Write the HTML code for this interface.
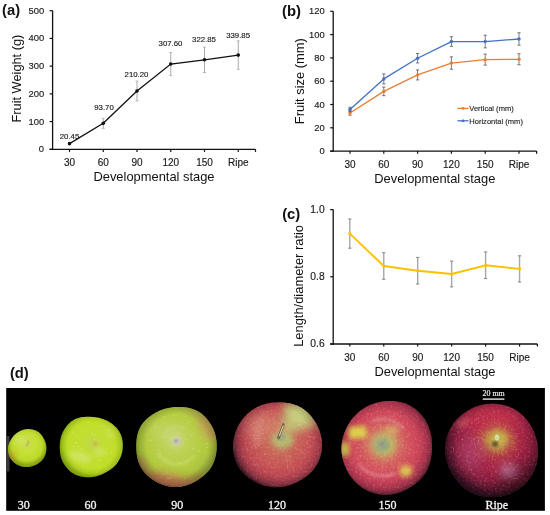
<!DOCTYPE html>
<html><head><meta charset="utf-8"><style>html,body{margin:0;padding:0;background:#fff;}svg{display:block;will-change:transform;}</style></head><body>
<svg width="550" height="515" viewBox="0 0 550 515" font-family="Liberation Sans, sans-serif">
<rect width="550" height="515" fill="#fff"/>
<text x="2" y="15.4" font-size="14.8" font-weight="bold" fill="#111">(a)</text>
<line x1="52.6" y1="10.700000000000017" x2="52.6" y2="149.95000000000002" stroke="#111" stroke-width="1.3"/>
<line x1="49.6" y1="149.3" x2="255.5" y2="149.3" stroke="#111" stroke-width="1.3"/>
<line x1="49.6" y1="149.3" x2="52.6" y2="149.3" stroke="#111" stroke-width="1.2"/>
<text x="0" y="0" font-size="9.87" text-anchor="end" fill="#1a1a1a" stroke="#1a1a1a" stroke-width="0.15" transform="translate(44.10,152.31) scale(0.952,1)">0</text>
<line x1="49.6" y1="121.58000000000001" x2="52.6" y2="121.58000000000001" stroke="#111" stroke-width="1.2"/>
<text x="0" y="0" font-size="9.87" text-anchor="end" fill="#1a1a1a" stroke="#1a1a1a" stroke-width="0.15" transform="translate(44.10,124.59) scale(0.952,1)">100</text>
<line x1="49.6" y1="93.86000000000001" x2="52.6" y2="93.86000000000001" stroke="#111" stroke-width="1.2"/>
<text x="0" y="0" font-size="9.87" text-anchor="end" fill="#1a1a1a" stroke="#1a1a1a" stroke-width="0.15" transform="translate(44.10,96.87) scale(0.952,1)">200</text>
<line x1="49.6" y1="66.14000000000001" x2="52.6" y2="66.14000000000001" stroke="#111" stroke-width="1.2"/>
<text x="0" y="0" font-size="9.87" text-anchor="end" fill="#1a1a1a" stroke="#1a1a1a" stroke-width="0.15" transform="translate(44.10,69.15) scale(0.952,1)">300</text>
<line x1="49.6" y1="38.420000000000016" x2="52.6" y2="38.420000000000016" stroke="#111" stroke-width="1.2"/>
<text x="0" y="0" font-size="9.87" text-anchor="end" fill="#1a1a1a" stroke="#1a1a1a" stroke-width="0.15" transform="translate(44.10,41.43) scale(0.952,1)">400</text>
<line x1="49.6" y1="10.700000000000017" x2="52.6" y2="10.700000000000017" stroke="#111" stroke-width="1.2"/>
<text x="0" y="0" font-size="9.87" text-anchor="end" fill="#1a1a1a" stroke="#1a1a1a" stroke-width="0.15" transform="translate(44.10,13.71) scale(0.952,1)">500</text>
<line x1="69.5" y1="149.3" x2="69.5" y2="151.9" stroke="#111" stroke-width="1.2"/>
<line x1="103.25" y1="149.3" x2="103.25" y2="151.9" stroke="#111" stroke-width="1.2"/>
<line x1="137.0" y1="149.3" x2="137.0" y2="151.9" stroke="#111" stroke-width="1.2"/>
<line x1="170.75" y1="149.3" x2="170.75" y2="151.9" stroke="#111" stroke-width="1.2"/>
<line x1="204.5" y1="149.3" x2="204.5" y2="151.9" stroke="#111" stroke-width="1.2"/>
<line x1="238.25" y1="149.3" x2="238.25" y2="151.9" stroke="#111" stroke-width="1.2"/>
<line x1="255.5" y1="149.3" x2="255.5" y2="151.9" stroke="#111" stroke-width="1.2"/>
<text x="69.5" y="165.6" font-size="10.0" text-anchor="middle" fill="#1a1a1a" stroke="#1a1a1a" stroke-width="0.15">30</text>
<text x="103.25" y="165.6" font-size="10.0" text-anchor="middle" fill="#1a1a1a" stroke="#1a1a1a" stroke-width="0.15">60</text>
<text x="137.0" y="165.6" font-size="10.0" text-anchor="middle" fill="#1a1a1a" stroke="#1a1a1a" stroke-width="0.15">90</text>
<text x="170.75" y="165.6" font-size="10.0" text-anchor="middle" fill="#1a1a1a" stroke="#1a1a1a" stroke-width="0.15">120</text>
<text x="204.5" y="165.6" font-size="10.0" text-anchor="middle" fill="#1a1a1a" stroke="#1a1a1a" stroke-width="0.15">150</text>
<text x="238.25" y="165.6" font-size="10.0" text-anchor="middle" fill="#1a1a1a" stroke="#1a1a1a" stroke-width="0.15">Ripe</text>
<text x="154" y="181.2" font-size="12.9" text-anchor="middle" fill="#111">Developmental stage</text>
<text x="0" y="0" font-size="12.8" text-anchor="middle" fill="#111" transform="translate(20.8,78.6) rotate(-90)">Fruit Weight (g)</text>
<line x1="103.25" y1="118.32636000000001" x2="103.25" y2="128.32636000000002" stroke="#aaa" stroke-width="1"/>
<line x1="101.75" y1="118.32636000000001" x2="104.75" y2="118.32636000000001" stroke="#aaa" stroke-width="0.8"/>
<line x1="101.75" y1="128.32636000000002" x2="104.75" y2="128.32636000000002" stroke="#aaa" stroke-width="0.8"/>
<line x1="137.0" y1="81.03256000000002" x2="137.0" y2="101.03256000000002" stroke="#aaa" stroke-width="1"/>
<line x1="135.5" y1="81.03256000000002" x2="138.5" y2="81.03256000000002" stroke="#aaa" stroke-width="0.8"/>
<line x1="135.5" y1="101.03256000000002" x2="138.5" y2="101.03256000000002" stroke="#aaa" stroke-width="0.8"/>
<line x1="170.75" y1="52.43328" x2="170.75" y2="75.63328" stroke="#aaa" stroke-width="1"/>
<line x1="169.25" y1="52.43328" x2="172.25" y2="52.43328" stroke="#aaa" stroke-width="0.8"/>
<line x1="169.25" y1="75.63328" x2="172.25" y2="75.63328" stroke="#aaa" stroke-width="0.8"/>
<line x1="204.5" y1="47.10598" x2="204.5" y2="72.50598000000001" stroke="#aaa" stroke-width="1"/>
<line x1="203.0" y1="47.10598" x2="206.0" y2="47.10598" stroke="#aaa" stroke-width="0.8"/>
<line x1="203.0" y1="72.50598000000001" x2="206.0" y2="72.50598000000001" stroke="#aaa" stroke-width="0.8"/>
<line x1="238.25" y1="40.89358" x2="238.25" y2="69.29358" stroke="#aaa" stroke-width="1"/>
<line x1="236.75" y1="40.89358" x2="239.75" y2="40.89358" stroke="#aaa" stroke-width="0.8"/>
<line x1="236.75" y1="69.29358" x2="239.75" y2="69.29358" stroke="#aaa" stroke-width="0.8"/>
<polyline fill="none" stroke="#111" stroke-width="1.3" points="69.50,143.63 103.25,123.33 137.00,91.03 170.75,64.03 204.50,59.81 238.25,55.09"/>
<circle cx="69.5" cy="143.63" r="1.8" fill="#111"/>
<circle cx="103.25" cy="123.33" r="1.8" fill="#111"/>
<circle cx="137.0" cy="91.03" r="1.8" fill="#111"/>
<circle cx="170.75" cy="64.03" r="1.8" fill="#111"/>
<circle cx="204.5" cy="59.81" r="1.8" fill="#111"/>
<circle cx="238.25" cy="55.09" r="1.8" fill="#111"/>
<text x="69.5" y="138.5" font-size="7.8" text-anchor="middle" fill="#1a1a1a" stroke="#1a1a1a" stroke-width="0.15">20.45</text>
<text x="104" y="110" font-size="7.8" text-anchor="middle" fill="#1a1a1a" stroke="#1a1a1a" stroke-width="0.15">93.70</text>
<text x="136.5" y="77" font-size="7.8" text-anchor="middle" fill="#1a1a1a" stroke="#1a1a1a" stroke-width="0.15">210.20</text>
<text x="170.5" y="46" font-size="7.8" text-anchor="middle" fill="#1a1a1a" stroke="#1a1a1a" stroke-width="0.15">307.60</text>
<text x="204" y="42.4" font-size="7.8" text-anchor="middle" fill="#1a1a1a" stroke="#1a1a1a" stroke-width="0.15">322.85</text>
<text x="238.1" y="37.8" font-size="7.8" text-anchor="middle" fill="#1a1a1a" stroke="#1a1a1a" stroke-width="0.15">339.85</text>
<text x="282.1" y="15.9" font-size="14.8" font-weight="bold" fill="#111">(b)</text>
<line x1="333.2" y1="11.299999999999983" x2="333.2" y2="151.75" stroke="#111" stroke-width="1.3"/>
<line x1="330.2" y1="151.1" x2="536.6" y2="151.1" stroke="#111" stroke-width="1.3"/>
<line x1="330.2" y1="151.1" x2="333.2" y2="151.1" stroke="#111" stroke-width="1.2"/>
<text x="0" y="0" font-size="9.87" text-anchor="end" fill="#1a1a1a" stroke="#1a1a1a" stroke-width="0.15" transform="translate(324.70,154.11) scale(0.952,1)">0</text>
<line x1="330.2" y1="127.8" x2="333.2" y2="127.8" stroke="#111" stroke-width="1.2"/>
<text x="0" y="0" font-size="9.87" text-anchor="end" fill="#1a1a1a" stroke="#1a1a1a" stroke-width="0.15" transform="translate(324.70,130.81) scale(0.952,1)">20</text>
<line x1="330.2" y1="104.5" x2="333.2" y2="104.5" stroke="#111" stroke-width="1.2"/>
<text x="0" y="0" font-size="9.87" text-anchor="end" fill="#1a1a1a" stroke="#1a1a1a" stroke-width="0.15" transform="translate(324.70,107.51) scale(0.952,1)">40</text>
<line x1="330.2" y1="81.19999999999999" x2="333.2" y2="81.19999999999999" stroke="#111" stroke-width="1.2"/>
<text x="0" y="0" font-size="9.87" text-anchor="end" fill="#1a1a1a" stroke="#1a1a1a" stroke-width="0.15" transform="translate(324.70,84.21) scale(0.952,1)">60</text>
<line x1="330.2" y1="57.89999999999999" x2="333.2" y2="57.89999999999999" stroke="#111" stroke-width="1.2"/>
<text x="0" y="0" font-size="9.87" text-anchor="end" fill="#1a1a1a" stroke="#1a1a1a" stroke-width="0.15" transform="translate(324.70,60.91) scale(0.952,1)">80</text>
<line x1="330.2" y1="34.599999999999994" x2="333.2" y2="34.599999999999994" stroke="#111" stroke-width="1.2"/>
<text x="0" y="0" font-size="9.87" text-anchor="end" fill="#1a1a1a" stroke="#1a1a1a" stroke-width="0.15" transform="translate(324.70,37.61) scale(0.952,1)">100</text>
<line x1="330.2" y1="11.299999999999983" x2="333.2" y2="11.299999999999983" stroke="#111" stroke-width="1.2"/>
<text x="0" y="0" font-size="9.87" text-anchor="end" fill="#1a1a1a" stroke="#1a1a1a" stroke-width="0.15" transform="translate(324.70,14.31) scale(0.952,1)">120</text>
<line x1="350.0" y1="151.1" x2="350.0" y2="153.7" stroke="#111" stroke-width="1.2"/>
<line x1="383.8" y1="151.1" x2="383.8" y2="153.7" stroke="#111" stroke-width="1.2"/>
<line x1="417.6" y1="151.1" x2="417.6" y2="153.7" stroke="#111" stroke-width="1.2"/>
<line x1="451.4" y1="151.1" x2="451.4" y2="153.7" stroke="#111" stroke-width="1.2"/>
<line x1="485.2" y1="151.1" x2="485.2" y2="153.7" stroke="#111" stroke-width="1.2"/>
<line x1="519.0" y1="151.1" x2="519.0" y2="153.7" stroke="#111" stroke-width="1.2"/>
<line x1="536.6" y1="151.1" x2="536.6" y2="153.7" stroke="#111" stroke-width="1.2"/>
<text x="350.0" y="167.7" font-size="10.0" text-anchor="middle" fill="#1a1a1a" stroke="#1a1a1a" stroke-width="0.15">30</text>
<text x="383.8" y="167.7" font-size="10.0" text-anchor="middle" fill="#1a1a1a" stroke="#1a1a1a" stroke-width="0.15">60</text>
<text x="417.6" y="167.7" font-size="10.0" text-anchor="middle" fill="#1a1a1a" stroke="#1a1a1a" stroke-width="0.15">90</text>
<text x="451.4" y="167.7" font-size="10.0" text-anchor="middle" fill="#1a1a1a" stroke="#1a1a1a" stroke-width="0.15">120</text>
<text x="485.2" y="167.7" font-size="10.0" text-anchor="middle" fill="#1a1a1a" stroke="#1a1a1a" stroke-width="0.15">150</text>
<text x="519.0" y="167.7" font-size="10.0" text-anchor="middle" fill="#1a1a1a" stroke="#1a1a1a" stroke-width="0.15">Ripe</text>
<text x="434.8" y="183.2" font-size="12.9" text-anchor="middle" fill="#111">Developmental stage</text>
<text x="0" y="0" font-size="12.9" text-anchor="middle" fill="#111" transform="translate(303.8,81.2) rotate(-90)">Fruit size (mm)</text>
<polyline fill="none" stroke="#ED7D31" stroke-width="1.35" stroke-linejoin="round" points="350.00,113.00 383.80,91.38 417.60,74.93 451.40,63.06 485.20,59.65 519.00,59.30"/>
<polyline fill="none" stroke="#4472C4" stroke-width="1.35" stroke-linejoin="round" points="350.00,109.47 383.80,78.92 417.60,58.24 451.40,41.56 485.20,41.56 519.00,38.97"/>
<line x1="350.0" y1="110.795" x2="350.0" y2="115.19500000000001" stroke="#666" stroke-width="0.85"/>
<line x1="348.4" y1="110.795" x2="351.6" y2="110.795" stroke="#555" stroke-width="0.8"/>
<line x1="348.4" y1="115.19500000000001" x2="351.6" y2="115.19500000000001" stroke="#555" stroke-width="0.8"/>
<line x1="383.8" y1="87.075" x2="383.8" y2="95.675" stroke="#666" stroke-width="0.85"/>
<line x1="382.2" y1="87.075" x2="385.40000000000003" y2="87.075" stroke="#555" stroke-width="0.8"/>
<line x1="382.2" y1="95.675" x2="385.40000000000003" y2="95.675" stroke="#555" stroke-width="0.8"/>
<line x1="417.6" y1="69.92500000000001" x2="417.6" y2="79.92500000000001" stroke="#666" stroke-width="0.85"/>
<line x1="416.0" y1="69.92500000000001" x2="419.20000000000005" y2="69.92500000000001" stroke="#555" stroke-width="0.8"/>
<line x1="416.0" y1="79.92500000000001" x2="419.20000000000005" y2="79.92500000000001" stroke="#555" stroke-width="0.8"/>
<line x1="451.4" y1="56.857500000000016" x2="451.4" y2="69.25750000000002" stroke="#666" stroke-width="0.85"/>
<line x1="449.79999999999995" y1="56.857500000000016" x2="453.0" y2="56.857500000000016" stroke="#555" stroke-width="0.8"/>
<line x1="449.79999999999995" y1="69.25750000000002" x2="453.0" y2="69.25750000000002" stroke="#555" stroke-width="0.8"/>
<line x1="485.2" y1="54.150000000000006" x2="485.2" y2="65.15" stroke="#666" stroke-width="0.85"/>
<line x1="483.59999999999997" y1="54.150000000000006" x2="486.8" y2="54.150000000000006" stroke="#555" stroke-width="0.8"/>
<line x1="483.59999999999997" y1="65.15" x2="486.8" y2="65.15" stroke="#555" stroke-width="0.8"/>
<line x1="519.0" y1="53.797500000000014" x2="519.0" y2="64.79750000000001" stroke="#666" stroke-width="0.85"/>
<line x1="517.4" y1="53.797500000000014" x2="520.6" y2="53.797500000000014" stroke="#555" stroke-width="0.8"/>
<line x1="517.4" y1="64.79750000000001" x2="520.6" y2="64.79750000000001" stroke="#555" stroke-width="0.8"/>
<circle cx="350.0" cy="113.00" r="1.7" fill="#ED7D31"/>
<circle cx="383.8" cy="91.38" r="1.7" fill="#ED7D31"/>
<circle cx="417.6" cy="74.93" r="1.7" fill="#ED7D31"/>
<circle cx="451.4" cy="63.06" r="1.7" fill="#ED7D31"/>
<circle cx="485.2" cy="59.65" r="1.7" fill="#ED7D31"/>
<circle cx="519.0" cy="59.30" r="1.7" fill="#ED7D31"/>
<line x1="350.0" y1="107.27" x2="350.0" y2="111.67" stroke="#666" stroke-width="0.85"/>
<line x1="348.4" y1="107.27" x2="351.6" y2="107.27" stroke="#555" stroke-width="0.8"/>
<line x1="348.4" y1="111.67" x2="351.6" y2="111.67" stroke="#555" stroke-width="0.8"/>
<line x1="383.8" y1="73.92" x2="383.8" y2="83.92" stroke="#666" stroke-width="0.85"/>
<line x1="382.2" y1="73.92" x2="385.40000000000003" y2="73.92" stroke="#555" stroke-width="0.8"/>
<line x1="382.2" y1="83.92" x2="385.40000000000003" y2="83.92" stroke="#555" stroke-width="0.8"/>
<line x1="417.6" y1="53.540000000000006" x2="417.6" y2="62.94000000000001" stroke="#666" stroke-width="0.85"/>
<line x1="416.0" y1="53.540000000000006" x2="419.20000000000005" y2="53.540000000000006" stroke="#555" stroke-width="0.8"/>
<line x1="416.0" y1="62.94000000000001" x2="419.20000000000005" y2="62.94000000000001" stroke="#555" stroke-width="0.8"/>
<line x1="451.4" y1="36.75500000000001" x2="451.4" y2="46.355000000000004" stroke="#666" stroke-width="0.85"/>
<line x1="449.79999999999995" y1="36.75500000000001" x2="453.0" y2="36.75500000000001" stroke="#555" stroke-width="0.8"/>
<line x1="449.79999999999995" y1="46.355000000000004" x2="453.0" y2="46.355000000000004" stroke="#555" stroke-width="0.8"/>
<line x1="485.2" y1="35.25500000000001" x2="485.2" y2="47.855000000000004" stroke="#666" stroke-width="0.85"/>
<line x1="483.59999999999997" y1="35.25500000000001" x2="486.8" y2="35.25500000000001" stroke="#555" stroke-width="0.8"/>
<line x1="483.59999999999997" y1="47.855000000000004" x2="486.8" y2="47.855000000000004" stroke="#555" stroke-width="0.8"/>
<line x1="519.0" y1="32.77000000000001" x2="519.0" y2="45.170000000000016" stroke="#666" stroke-width="0.85"/>
<line x1="517.4" y1="32.77000000000001" x2="520.6" y2="32.77000000000001" stroke="#555" stroke-width="0.8"/>
<line x1="517.4" y1="45.170000000000016" x2="520.6" y2="45.170000000000016" stroke="#555" stroke-width="0.8"/>
<circle cx="350.0" cy="109.47" r="1.7" fill="#4472C4"/>
<circle cx="383.8" cy="78.92" r="1.7" fill="#4472C4"/>
<circle cx="417.6" cy="58.24" r="1.7" fill="#4472C4"/>
<circle cx="451.4" cy="41.56" r="1.7" fill="#4472C4"/>
<circle cx="485.2" cy="41.56" r="1.7" fill="#4472C4"/>
<circle cx="519.0" cy="38.97" r="1.7" fill="#4472C4"/>
<line x1="457.5" y1="108.4" x2="468.5" y2="108.4" stroke="#ED7D31" stroke-width="1.3"/>
<circle cx="463" cy="108.4" r="1.4" fill="#ED7D31"/>
<text x="0" y="0" font-size="8.0" fill="#222" stroke="#222" stroke-width="0.12" transform="translate(469.3,111.15) scale(0.944,1)">Vertical (mm)</text>
<line x1="457.5" y1="120.8" x2="468.5" y2="120.8" stroke="#4472C4" stroke-width="1.3"/>
<circle cx="463" cy="120.8" r="1.4" fill="#4472C4"/>
<text x="0" y="0" font-size="8.0" fill="#222" stroke="#222" stroke-width="0.12" transform="translate(469.3,123.55) scale(0.944,1)">Horizontal (mm)</text>
<text x="282.2" y="218.5" font-size="14.8" font-weight="bold" fill="#111">(c)</text>
<line x1="333.2" y1="209.6" x2="333.2" y2="344.65" stroke="#111" stroke-width="1.3"/>
<line x1="330.2" y1="344" x2="537.4" y2="344" stroke="#111" stroke-width="1.3"/>
<line x1="330.2" y1="344.0" x2="333.2" y2="344.0" stroke="#111" stroke-width="1.2"/>
<text x="0" y="0" font-size="10.30" text-anchor="end" fill="#1a1a1a" stroke="#1a1a1a" stroke-width="0.15" transform="translate(324.70,347.33) scale(1.000,1)">0.6</text>
<line x1="330.2" y1="276.79999999999995" x2="333.2" y2="276.79999999999995" stroke="#111" stroke-width="1.2"/>
<text x="0" y="0" font-size="10.30" text-anchor="end" fill="#1a1a1a" stroke="#1a1a1a" stroke-width="0.15" transform="translate(324.70,280.13) scale(1.000,1)">0.8</text>
<line x1="330.2" y1="209.6" x2="333.2" y2="209.6" stroke="#111" stroke-width="1.2"/>
<text x="0" y="0" font-size="10.30" text-anchor="end" fill="#1a1a1a" stroke="#1a1a1a" stroke-width="0.15" transform="translate(324.70,212.93) scale(1.000,1)">1.0</text>
<line x1="349.8" y1="344" x2="349.8" y2="346.6" stroke="#111" stroke-width="1.2"/>
<line x1="383.75" y1="344" x2="383.75" y2="346.6" stroke="#111" stroke-width="1.2"/>
<line x1="417.70000000000005" y1="344" x2="417.70000000000005" y2="346.6" stroke="#111" stroke-width="1.2"/>
<line x1="451.65000000000003" y1="344" x2="451.65000000000003" y2="346.6" stroke="#111" stroke-width="1.2"/>
<line x1="485.6" y1="344" x2="485.6" y2="346.6" stroke="#111" stroke-width="1.2"/>
<line x1="519.55" y1="344" x2="519.55" y2="346.6" stroke="#111" stroke-width="1.2"/>
<line x1="537.4" y1="344" x2="537.4" y2="346.6" stroke="#111" stroke-width="1.2"/>
<text x="349.8" y="360.7" font-size="10.0" text-anchor="middle" fill="#1a1a1a" stroke="#1a1a1a" stroke-width="0.15">30</text>
<text x="383.75" y="360.7" font-size="10.0" text-anchor="middle" fill="#1a1a1a" stroke="#1a1a1a" stroke-width="0.15">60</text>
<text x="417.70000000000005" y="360.7" font-size="10.0" text-anchor="middle" fill="#1a1a1a" stroke="#1a1a1a" stroke-width="0.15">90</text>
<text x="451.65000000000003" y="360.7" font-size="10.0" text-anchor="middle" fill="#1a1a1a" stroke="#1a1a1a" stroke-width="0.15">120</text>
<text x="485.6" y="360.7" font-size="10.0" text-anchor="middle" fill="#1a1a1a" stroke="#1a1a1a" stroke-width="0.15">150</text>
<text x="519.55" y="360.7" font-size="10.0" text-anchor="middle" fill="#1a1a1a" stroke="#1a1a1a" stroke-width="0.15">Ripe</text>
<text x="435" y="376.2" font-size="12.9" text-anchor="middle" fill="#111">Developmental stage</text>
<text x="0" y="0" font-size="12.9" text-anchor="middle" fill="#111" transform="translate(303.4,285.9) rotate(-90)">Length/diameter ratio</text>
<line x1="349.8" y1="219.0" x2="349.8" y2="248.2" stroke="#a8a8a8" stroke-width="1.4"/>
<line x1="348.2" y1="219.0" x2="351.40000000000003" y2="219.0" stroke="#777" stroke-width="0.9"/>
<line x1="348.2" y1="248.2" x2="351.40000000000003" y2="248.2" stroke="#777" stroke-width="0.9"/>
<line x1="383.75" y1="252.7" x2="383.75" y2="279.3" stroke="#a8a8a8" stroke-width="1.4"/>
<line x1="382.15" y1="252.7" x2="385.35" y2="252.7" stroke="#777" stroke-width="0.9"/>
<line x1="382.15" y1="279.3" x2="385.35" y2="279.3" stroke="#777" stroke-width="0.9"/>
<line x1="417.70000000000005" y1="257.4" x2="417.70000000000005" y2="284.0" stroke="#a8a8a8" stroke-width="1.4"/>
<line x1="416.1" y1="257.4" x2="419.30000000000007" y2="257.4" stroke="#777" stroke-width="0.9"/>
<line x1="416.1" y1="284.0" x2="419.30000000000007" y2="284.0" stroke="#777" stroke-width="0.9"/>
<line x1="451.65000000000003" y1="261.1" x2="451.65000000000003" y2="286.9" stroke="#a8a8a8" stroke-width="1.4"/>
<line x1="450.05" y1="261.1" x2="453.25000000000006" y2="261.1" stroke="#777" stroke-width="0.9"/>
<line x1="450.05" y1="286.9" x2="453.25000000000006" y2="286.9" stroke="#777" stroke-width="0.9"/>
<line x1="485.6" y1="252.0" x2="485.6" y2="278.6" stroke="#a8a8a8" stroke-width="1.4"/>
<line x1="484.0" y1="252.0" x2="487.20000000000005" y2="252.0" stroke="#777" stroke-width="0.9"/>
<line x1="484.0" y1="278.6" x2="487.20000000000005" y2="278.6" stroke="#777" stroke-width="0.9"/>
<line x1="519.55" y1="255.79999999999998" x2="519.55" y2="282.0" stroke="#a8a8a8" stroke-width="1.4"/>
<line x1="517.9499999999999" y1="255.79999999999998" x2="521.15" y2="255.79999999999998" stroke="#777" stroke-width="0.9"/>
<line x1="517.9499999999999" y1="282.0" x2="521.15" y2="282.0" stroke="#777" stroke-width="0.9"/>
<polyline fill="none" stroke="#FFC000" stroke-width="1.9" stroke-linejoin="round" points="349.80,233.60 383.75,266.00 417.70,270.70 451.65,274.00 485.60,265.30 519.55,268.90"/>
<circle cx="349.8" cy="233.6" r="1.6" fill="#FFC000"/>
<circle cx="383.75" cy="266" r="1.6" fill="#FFC000"/>
<circle cx="417.70000000000005" cy="270.7" r="1.6" fill="#FFC000"/>
<circle cx="451.65000000000003" cy="274" r="1.6" fill="#FFC000"/>
<circle cx="485.6" cy="265.3" r="1.6" fill="#FFC000"/>
<circle cx="519.55" cy="268.9" r="1.6" fill="#FFC000"/>
<text x="9.9" y="378.2" font-size="14.8" font-weight="bold" fill="#111">(d)</text>
<rect x="6.2" y="388" width="538.7" height="122.8" fill="#000"/>
<defs>
<filter id="b0_5" x="-60%" y="-60%" width="220%" height="220%"><feGaussianBlur stdDeviation="0.5"/></filter>
<filter id="b0_8" x="-60%" y="-60%" width="220%" height="220%"><feGaussianBlur stdDeviation="0.8"/></filter>
<filter id="b1_5" x="-60%" y="-60%" width="220%" height="220%"><feGaussianBlur stdDeviation="1.5"/></filter>
<filter id="b2_5" x="-60%" y="-60%" width="220%" height="220%"><feGaussianBlur stdDeviation="2.5"/></filter>
<filter id="b4" x="-60%" y="-60%" width="220%" height="220%"><feGaussianBlur stdDeviation="4"/></filter>
<filter id="b6" x="-60%" y="-60%" width="220%" height="220%"><feGaussianBlur stdDeviation="6"/></filter>
<filter id="edge" x="-10%" y="-10%" width="120%" height="120%"><feGaussianBlur stdDeviation="0.55"/></filter>
<filter id="noise" x="0" y="0" width="100%" height="100%"><feTurbulence type="fractalNoise" baseFrequency="0.45" numOctaves="2" seed="4"/><feColorMatrix type="matrix" values="0 0 0 0 1  0 0 0 0 0.8  0 0 0 0 0.55  0 0 0 1.6 -0.78"/><feGaussianBlur stdDeviation="0.4"/></filter>
<radialGradient id="g30" gradientUnits="userSpaceOnUse" cx="27" cy="444" r="20.5"><stop offset="0" stop-color="#c8dc58" stop-opacity="1"/><stop offset="0.4" stop-color="#c8e038" stop-opacity="1"/><stop offset="0.8" stop-color="#bcda2a" stop-opacity="1"/><stop offset="1" stop-color="#98b818" stop-opacity="1"/></radialGradient>
<radialGradient id="g60" gradientUnits="userSpaceOnUse" cx="93" cy="444" r="33"><stop offset="0" stop-color="#bcd650" stop-opacity="1"/><stop offset="0.3" stop-color="#c4de34" stop-opacity="1"/><stop offset="0.75" stop-color="#c0de2a" stop-opacity="1"/><stop offset="0.9" stop-color="#b0d222" stop-opacity="1"/><stop offset="1" stop-color="#90b414" stop-opacity="1"/></radialGradient>
<radialGradient id="g90" gradientUnits="userSpaceOnUse" cx="175" cy="440" r="45"><stop offset="0" stop-color="#ccdc90" stop-opacity="1"/><stop offset="0.25" stop-color="#bed258" stop-opacity="1"/><stop offset="0.55" stop-color="#b6ce42" stop-opacity="1"/><stop offset="0.82" stop-color="#acc63a" stop-opacity="1"/><stop offset="1" stop-color="#909c34" stop-opacity="1"/></radialGradient>
<radialGradient id="g120" gradientUnits="userSpaceOnUse" cx="280" cy="440" r="48"><stop offset="0" stop-color="#c09868" stop-opacity="1"/><stop offset="0.3" stop-color="#c86458" stop-opacity="1"/><stop offset="0.6" stop-color="#c45054" stop-opacity="1"/><stop offset="0.84" stop-color="#b44050" stop-opacity="1"/><stop offset="0.95" stop-color="#903448" stop-opacity="1"/><stop offset="1" stop-color="#682434" stop-opacity="1"/></radialGradient>
<radialGradient id="g150" gradientUnits="userSpaceOnUse" cx="384" cy="445" r="51"><stop offset="0" stop-color="#809070" stop-opacity="1"/><stop offset="0.14" stop-color="#b8a858" stop-opacity="1"/><stop offset="0.3" stop-color="#d4625e" stop-opacity="1"/><stop offset="0.6" stop-color="#d0485a" stop-opacity="1"/><stop offset="0.85" stop-color="#bc3856" stop-opacity="1"/><stop offset="0.95" stop-color="#963048" stop-opacity="1"/><stop offset="1" stop-color="#682038" stop-opacity="1"/></radialGradient>
<radialGradient id="gR" gradientUnits="userSpaceOnUse" cx="497" cy="440" r="54"><stop offset="0" stop-color="#c0ac48" stop-opacity="1"/><stop offset="0.12" stop-color="#b88048" stop-opacity="1"/><stop offset="0.26" stop-color="#b03444" stop-opacity="1"/><stop offset="0.5" stop-color="#a42244" stop-opacity="1"/><stop offset="0.76" stop-color="#8c1e40" stop-opacity="1"/><stop offset="0.9" stop-color="#6c1836" stop-opacity="1"/><stop offset="1" stop-color="#44102a" stop-opacity="1"/></radialGradient>
</defs>
<rect x="6" y="436" width="3.5" height="35.5" fill="#383838" filter="url(#b0_5)"/>
<clipPath id="c30"><path d="M46.40,448.30 L46.38,449.30 L46.30,450.31 L46.18,451.31 L46.01,452.30 L45.78,453.28 L45.50,454.25 L45.16,455.20 L44.77,456.12 L44.33,457.03 L43.83,457.90 L43.27,458.74 L42.66,459.53 L42.00,460.29 L41.30,461.00 L40.56,461.66 L39.80,462.29 L39.01,462.88 L38.19,463.43 L37.36,463.94 L36.51,464.43 L35.65,464.88 L34.77,465.30 L33.87,465.68 L32.96,466.02 L32.03,466.32 L31.09,466.58 L30.13,466.79 L29.16,466.95 L28.18,467.06 L27.20,467.12 L26.21,467.12 L25.23,467.08 L24.24,466.98 L23.26,466.84 L22.28,466.65 L21.32,466.41 L20.36,466.11 L19.42,465.77 L18.50,465.37 L17.60,464.93 L16.72,464.44 L15.86,463.91 L15.03,463.33 L14.23,462.71 L13.45,462.05 L12.72,461.34 L12.03,460.59 L11.38,459.79 L10.78,458.96 L10.24,458.09 L9.76,457.19 L9.33,456.26 L8.96,455.30 L8.65,454.33 L8.40,453.34 L8.21,452.34 L8.07,451.33 L7.99,450.32 L7.97,449.31 L8.00,448.30 L8.09,447.30 L8.25,446.31 L8.47,445.33 L8.74,444.38 L9.06,443.44 L9.43,442.52 L9.83,441.63 L10.27,440.76 L10.74,439.91 L11.24,439.08 L11.76,438.27 L12.31,437.48 L12.90,436.72 L13.51,435.97 L14.16,435.26 L14.84,434.57 L15.55,433.92 L16.30,433.30 L17.08,432.71 L17.89,432.17 L18.73,431.67 L19.59,431.20 L20.47,430.78 L21.38,430.39 L22.31,430.06 L23.26,429.76 L24.23,429.52 L25.21,429.33 L26.20,429.19 L27.20,429.10 L28.21,429.06 L29.22,429.07 L30.24,429.13 L31.25,429.24 L32.26,429.41 L33.27,429.63 L34.26,429.92 L35.23,430.27 L36.17,430.69 L37.09,431.17 L37.96,431.73 L38.79,432.34 L39.58,433.01 L40.32,433.73 L41.01,434.49 L41.65,435.29 L42.25,436.11 L42.81,436.96 L43.34,437.82 L43.83,438.70 L44.29,439.59 L44.71,440.51 L45.09,441.43 L45.42,442.38 L45.71,443.34 L45.95,444.31 L46.15,445.30 L46.29,446.29 L46.37,447.30Z"/></clipPath>
<g filter="url(#edge)"><path d="M46.40,448.30 L46.38,449.30 L46.30,450.31 L46.18,451.31 L46.01,452.30 L45.78,453.28 L45.50,454.25 L45.16,455.20 L44.77,456.12 L44.33,457.03 L43.83,457.90 L43.27,458.74 L42.66,459.53 L42.00,460.29 L41.30,461.00 L40.56,461.66 L39.80,462.29 L39.01,462.88 L38.19,463.43 L37.36,463.94 L36.51,464.43 L35.65,464.88 L34.77,465.30 L33.87,465.68 L32.96,466.02 L32.03,466.32 L31.09,466.58 L30.13,466.79 L29.16,466.95 L28.18,467.06 L27.20,467.12 L26.21,467.12 L25.23,467.08 L24.24,466.98 L23.26,466.84 L22.28,466.65 L21.32,466.41 L20.36,466.11 L19.42,465.77 L18.50,465.37 L17.60,464.93 L16.72,464.44 L15.86,463.91 L15.03,463.33 L14.23,462.71 L13.45,462.05 L12.72,461.34 L12.03,460.59 L11.38,459.79 L10.78,458.96 L10.24,458.09 L9.76,457.19 L9.33,456.26 L8.96,455.30 L8.65,454.33 L8.40,453.34 L8.21,452.34 L8.07,451.33 L7.99,450.32 L7.97,449.31 L8.00,448.30 L8.09,447.30 L8.25,446.31 L8.47,445.33 L8.74,444.38 L9.06,443.44 L9.43,442.52 L9.83,441.63 L10.27,440.76 L10.74,439.91 L11.24,439.08 L11.76,438.27 L12.31,437.48 L12.90,436.72 L13.51,435.97 L14.16,435.26 L14.84,434.57 L15.55,433.92 L16.30,433.30 L17.08,432.71 L17.89,432.17 L18.73,431.67 L19.59,431.20 L20.47,430.78 L21.38,430.39 L22.31,430.06 L23.26,429.76 L24.23,429.52 L25.21,429.33 L26.20,429.19 L27.20,429.10 L28.21,429.06 L29.22,429.07 L30.24,429.13 L31.25,429.24 L32.26,429.41 L33.27,429.63 L34.26,429.92 L35.23,430.27 L36.17,430.69 L37.09,431.17 L37.96,431.73 L38.79,432.34 L39.58,433.01 L40.32,433.73 L41.01,434.49 L41.65,435.29 L42.25,436.11 L42.81,436.96 L43.34,437.82 L43.83,438.70 L44.29,439.59 L44.71,440.51 L45.09,441.43 L45.42,442.38 L45.71,443.34 L45.95,444.31 L46.15,445.30 L46.29,446.29 L46.37,447.30Z" fill="url(#g30)"/>
<g clip-path="url(#c30)">
<ellipse cx="12" cy="456" rx="3.5" ry="6" fill="#d09030" opacity="0.55" filter="url(#b2_5)"/>
<ellipse cx="20" cy="440" rx="7" ry="5" fill="#dcec98" opacity="0.35" filter="url(#b2_5)"/>
<path d="M28.5,441.5 L27,445.5" stroke="#c8a850" stroke-width="2" stroke-linecap="round" opacity="0.75" filter="url(#b0_5)"/>
<radialGradient id="rim30" gradientUnits="userSpaceOnUse" cx="27" cy="447" r="21"><stop offset="0.7" stop-color="#000" stop-opacity="0"/><stop offset="0.9" stop-color="#000" stop-opacity="0.10"/><stop offset="1" stop-color="#000" stop-opacity="0.25"/></radialGradient>
<path d="M46.40,448.30 L46.38,449.30 L46.30,450.31 L46.18,451.31 L46.01,452.30 L45.78,453.28 L45.50,454.25 L45.16,455.20 L44.77,456.12 L44.33,457.03 L43.83,457.90 L43.27,458.74 L42.66,459.53 L42.00,460.29 L41.30,461.00 L40.56,461.66 L39.80,462.29 L39.01,462.88 L38.19,463.43 L37.36,463.94 L36.51,464.43 L35.65,464.88 L34.77,465.30 L33.87,465.68 L32.96,466.02 L32.03,466.32 L31.09,466.58 L30.13,466.79 L29.16,466.95 L28.18,467.06 L27.20,467.12 L26.21,467.12 L25.23,467.08 L24.24,466.98 L23.26,466.84 L22.28,466.65 L21.32,466.41 L20.36,466.11 L19.42,465.77 L18.50,465.37 L17.60,464.93 L16.72,464.44 L15.86,463.91 L15.03,463.33 L14.23,462.71 L13.45,462.05 L12.72,461.34 L12.03,460.59 L11.38,459.79 L10.78,458.96 L10.24,458.09 L9.76,457.19 L9.33,456.26 L8.96,455.30 L8.65,454.33 L8.40,453.34 L8.21,452.34 L8.07,451.33 L7.99,450.32 L7.97,449.31 L8.00,448.30 L8.09,447.30 L8.25,446.31 L8.47,445.33 L8.74,444.38 L9.06,443.44 L9.43,442.52 L9.83,441.63 L10.27,440.76 L10.74,439.91 L11.24,439.08 L11.76,438.27 L12.31,437.48 L12.90,436.72 L13.51,435.97 L14.16,435.26 L14.84,434.57 L15.55,433.92 L16.30,433.30 L17.08,432.71 L17.89,432.17 L18.73,431.67 L19.59,431.20 L20.47,430.78 L21.38,430.39 L22.31,430.06 L23.26,429.76 L24.23,429.52 L25.21,429.33 L26.20,429.19 L27.20,429.10 L28.21,429.06 L29.22,429.07 L30.24,429.13 L31.25,429.24 L32.26,429.41 L33.27,429.63 L34.26,429.92 L35.23,430.27 L36.17,430.69 L37.09,431.17 L37.96,431.73 L38.79,432.34 L39.58,433.01 L40.32,433.73 L41.01,434.49 L41.65,435.29 L42.25,436.11 L42.81,436.96 L43.34,437.82 L43.83,438.70 L44.29,439.59 L44.71,440.51 L45.09,441.43 L45.42,442.38 L45.71,443.34 L45.95,444.31 L46.15,445.30 L46.29,446.29 L46.37,447.30Z" fill="url(#rim30)"/>
</g></g>
<clipPath id="c60"><path d="M122.80,447.00 L122.69,448.61 L122.50,450.21 L122.23,451.79 L121.87,453.36 L121.42,454.90 L120.89,456.41 L120.28,457.89 L119.58,459.34 L118.81,460.74 L117.96,462.09 L117.02,463.39 L116.01,464.63 L114.92,465.80 L113.77,466.91 L112.56,467.95 L111.32,468.93 L110.03,469.86 L108.71,470.73 L107.37,471.56 L106.00,472.34 L104.61,473.09 L103.19,473.79 L101.74,474.44 L100.27,475.04 L98.76,475.58 L97.22,476.05 L95.65,476.46 L94.05,476.79 L92.44,477.03 L90.80,477.18 L89.15,477.26 L87.49,477.27 L85.83,477.21 L84.16,477.07 L82.49,476.84 L80.83,476.52 L79.19,476.10 L77.58,475.58 L76.01,474.95 L74.48,474.21 L73.01,473.36 L71.61,472.42 L70.28,471.38 L69.03,470.27 L67.85,469.09 L66.74,467.85 L65.72,466.55 L64.77,465.21 L63.89,463.82 L63.09,462.40 L62.37,460.94 L61.75,459.45 L61.23,457.93 L60.80,456.38 L60.45,454.83 L60.18,453.26 L59.99,451.70 L59.86,450.13 L59.78,448.56 L59.76,447.00 L59.78,445.44 L59.86,443.87 L60.00,442.30 L60.20,440.74 L60.47,439.18 L60.82,437.62 L61.25,436.08 L61.77,434.56 L62.38,433.06 L63.09,431.60 L63.87,430.17 L64.72,428.76 L65.64,427.39 L66.64,426.06 L67.72,424.79 L68.88,423.57 L70.12,422.42 L71.44,421.36 L72.84,420.39 L74.32,419.53 L75.87,418.79 L77.47,418.18 L79.11,417.70 L80.78,417.33 L82.47,417.06 L84.15,416.89 L85.83,416.79 L87.50,416.75 L89.15,416.77 L90.80,416.82 L92.44,416.90 L94.07,417.05 L95.70,417.25 L97.31,417.51 L98.92,417.84 L100.51,418.24 L102.08,418.72 L103.63,419.26 L105.15,419.89 L106.64,420.59 L108.10,421.36 L109.52,422.19 L110.92,423.09 L112.28,424.04 L113.58,425.07 L114.83,426.17 L116.02,427.34 L117.13,428.59 L118.15,429.91 L119.07,431.29 L119.88,432.74 L120.59,434.23 L121.20,435.77 L121.71,437.33 L122.12,438.92 L122.43,440.53 L122.65,442.15 L122.78,443.77 L122.83,445.38Z"/></clipPath>
<g filter="url(#edge)"><path d="M122.80,447.00 L122.69,448.61 L122.50,450.21 L122.23,451.79 L121.87,453.36 L121.42,454.90 L120.89,456.41 L120.28,457.89 L119.58,459.34 L118.81,460.74 L117.96,462.09 L117.02,463.39 L116.01,464.63 L114.92,465.80 L113.77,466.91 L112.56,467.95 L111.32,468.93 L110.03,469.86 L108.71,470.73 L107.37,471.56 L106.00,472.34 L104.61,473.09 L103.19,473.79 L101.74,474.44 L100.27,475.04 L98.76,475.58 L97.22,476.05 L95.65,476.46 L94.05,476.79 L92.44,477.03 L90.80,477.18 L89.15,477.26 L87.49,477.27 L85.83,477.21 L84.16,477.07 L82.49,476.84 L80.83,476.52 L79.19,476.10 L77.58,475.58 L76.01,474.95 L74.48,474.21 L73.01,473.36 L71.61,472.42 L70.28,471.38 L69.03,470.27 L67.85,469.09 L66.74,467.85 L65.72,466.55 L64.77,465.21 L63.89,463.82 L63.09,462.40 L62.37,460.94 L61.75,459.45 L61.23,457.93 L60.80,456.38 L60.45,454.83 L60.18,453.26 L59.99,451.70 L59.86,450.13 L59.78,448.56 L59.76,447.00 L59.78,445.44 L59.86,443.87 L60.00,442.30 L60.20,440.74 L60.47,439.18 L60.82,437.62 L61.25,436.08 L61.77,434.56 L62.38,433.06 L63.09,431.60 L63.87,430.17 L64.72,428.76 L65.64,427.39 L66.64,426.06 L67.72,424.79 L68.88,423.57 L70.12,422.42 L71.44,421.36 L72.84,420.39 L74.32,419.53 L75.87,418.79 L77.47,418.18 L79.11,417.70 L80.78,417.33 L82.47,417.06 L84.15,416.89 L85.83,416.79 L87.50,416.75 L89.15,416.77 L90.80,416.82 L92.44,416.90 L94.07,417.05 L95.70,417.25 L97.31,417.51 L98.92,417.84 L100.51,418.24 L102.08,418.72 L103.63,419.26 L105.15,419.89 L106.64,420.59 L108.10,421.36 L109.52,422.19 L110.92,423.09 L112.28,424.04 L113.58,425.07 L114.83,426.17 L116.02,427.34 L117.13,428.59 L118.15,429.91 L119.07,431.29 L119.88,432.74 L120.59,434.23 L121.20,435.77 L121.71,437.33 L122.12,438.92 L122.43,440.53 L122.65,442.15 L122.78,443.77 L122.83,445.38Z" fill="url(#g60)"/>
<g clip-path="url(#c60)">
<ellipse cx="80" cy="457" rx="12" ry="5" fill="#e4eea8" opacity="0.4" filter="url(#b2_5)" transform="rotate(20 80 457)"/>
<ellipse cx="100" cy="452" rx="6" ry="4" fill="#e4eea8" opacity="0.35" filter="url(#b2_5)"/>
<ellipse cx="110" cy="432" rx="6" ry="8" fill="#d8e888" opacity="0.2" filter="url(#b2_5)"/>
<g fill="#e8f0b0" opacity="0.6" filter="url(#b0_5)"><circle cx="91.9" cy="457.3" r="0.6"/><circle cx="81.5" cy="454.3" r="0.6"/><circle cx="107.0" cy="454.1" r="0.6"/><circle cx="111.8" cy="435.2" r="0.6"/><circle cx="92.3" cy="433.4" r="0.6"/><circle cx="76.4" cy="443.6" r="0.6"/><circle cx="95.9" cy="456.3" r="0.6"/><circle cx="96.7" cy="472.0" r="0.6"/><circle cx="102.4" cy="425.9" r="0.6"/><circle cx="95.0" cy="434.7" r="0.6"/><circle cx="83.1" cy="466.9" r="0.6"/><circle cx="88.2" cy="422.5" r="0.6"/><circle cx="98.2" cy="440.3" r="0.6"/><circle cx="73.6" cy="433.4" r="0.6"/><circle cx="78.5" cy="446.5" r="0.6"/><circle cx="81.2" cy="448.6" r="0.6"/><circle cx="113.8" cy="437.1" r="0.6"/><circle cx="76.2" cy="442.4" r="0.6"/><circle cx="108.2" cy="435.9" r="0.6"/><circle cx="109.2" cy="430.4" r="0.6"/><circle cx="73.3" cy="446.1" r="0.6"/><circle cx="76.3" cy="436.5" r="0.6"/><circle cx="99.2" cy="460.2" r="0.6"/><circle cx="94.2" cy="439.4" r="0.6"/><circle cx="111.5" cy="453.1" r="0.6"/></g>
<ellipse cx="95.5" cy="443.5" rx="2.4" ry="2.1" fill="#d0b050" opacity="0.95" filter="url(#b0_8)"/>
<radialGradient id="rim60" gradientUnits="userSpaceOnUse" cx="91" cy="446" r="34"><stop offset="0.7" stop-color="#000" stop-opacity="0"/><stop offset="0.9" stop-color="#000" stop-opacity="0.09"/><stop offset="1" stop-color="#000" stop-opacity="0.22"/></radialGradient>
<path d="M122.80,447.00 L122.69,448.61 L122.50,450.21 L122.23,451.79 L121.87,453.36 L121.42,454.90 L120.89,456.41 L120.28,457.89 L119.58,459.34 L118.81,460.74 L117.96,462.09 L117.02,463.39 L116.01,464.63 L114.92,465.80 L113.77,466.91 L112.56,467.95 L111.32,468.93 L110.03,469.86 L108.71,470.73 L107.37,471.56 L106.00,472.34 L104.61,473.09 L103.19,473.79 L101.74,474.44 L100.27,475.04 L98.76,475.58 L97.22,476.05 L95.65,476.46 L94.05,476.79 L92.44,477.03 L90.80,477.18 L89.15,477.26 L87.49,477.27 L85.83,477.21 L84.16,477.07 L82.49,476.84 L80.83,476.52 L79.19,476.10 L77.58,475.58 L76.01,474.95 L74.48,474.21 L73.01,473.36 L71.61,472.42 L70.28,471.38 L69.03,470.27 L67.85,469.09 L66.74,467.85 L65.72,466.55 L64.77,465.21 L63.89,463.82 L63.09,462.40 L62.37,460.94 L61.75,459.45 L61.23,457.93 L60.80,456.38 L60.45,454.83 L60.18,453.26 L59.99,451.70 L59.86,450.13 L59.78,448.56 L59.76,447.00 L59.78,445.44 L59.86,443.87 L60.00,442.30 L60.20,440.74 L60.47,439.18 L60.82,437.62 L61.25,436.08 L61.77,434.56 L62.38,433.06 L63.09,431.60 L63.87,430.17 L64.72,428.76 L65.64,427.39 L66.64,426.06 L67.72,424.79 L68.88,423.57 L70.12,422.42 L71.44,421.36 L72.84,420.39 L74.32,419.53 L75.87,418.79 L77.47,418.18 L79.11,417.70 L80.78,417.33 L82.47,417.06 L84.15,416.89 L85.83,416.79 L87.50,416.75 L89.15,416.77 L90.80,416.82 L92.44,416.90 L94.07,417.05 L95.70,417.25 L97.31,417.51 L98.92,417.84 L100.51,418.24 L102.08,418.72 L103.63,419.26 L105.15,419.89 L106.64,420.59 L108.10,421.36 L109.52,422.19 L110.92,423.09 L112.28,424.04 L113.58,425.07 L114.83,426.17 L116.02,427.34 L117.13,428.59 L118.15,429.91 L119.07,431.29 L119.88,432.74 L120.59,434.23 L121.20,435.77 L121.71,437.33 L122.12,438.92 L122.43,440.53 L122.65,442.15 L122.78,443.77 L122.83,445.38Z" fill="url(#rim60)"/>
</g></g>
<clipPath id="c90"><path d="M216.80,447.00 L216.72,449.09 L216.54,451.18 L216.27,453.25 L215.90,455.31 L215.42,457.35 L214.84,459.37 L214.14,461.35 L213.33,463.29 L212.41,465.17 L211.37,467.00 L210.22,468.76 L208.96,470.43 L207.59,472.03 L206.14,473.54 L204.62,474.97 L203.02,476.31 L201.37,477.58 L199.67,478.77 L197.93,479.89 L196.15,480.95 L194.33,481.94 L192.47,482.88 L190.58,483.73 L188.64,484.51 L186.66,485.20 L184.65,485.79 L182.60,486.28 L180.52,486.65 L178.42,486.89 L176.30,487.00 L174.18,486.98 L172.06,486.83 L169.96,486.55 L167.87,486.16 L165.81,485.66 L163.78,485.05 L161.79,484.34 L159.83,483.53 L157.92,482.63 L156.05,481.64 L154.23,480.57 L152.45,479.42 L150.73,478.19 L149.07,476.87 L147.48,475.46 L145.97,473.97 L144.55,472.40 L143.22,470.74 L141.99,469.01 L140.88,467.20 L139.89,465.32 L139.04,463.39 L138.31,461.40 L137.71,459.38 L137.23,457.34 L136.85,455.28 L136.57,453.22 L136.37,451.14 L136.26,449.07 L136.20,447.00 L136.21,444.92 L136.28,442.85 L136.42,440.76 L136.65,438.68 L136.98,436.60 L137.43,434.53 L137.99,432.48 L138.69,430.46 L139.54,428.50 L140.52,426.60 L141.66,424.78 L142.92,423.04 L144.29,421.40 L145.76,419.84 L147.32,418.38 L148.96,417.01 L150.66,415.72 L152.41,414.53 L154.21,413.41 L156.05,412.36 L157.93,411.40 L159.86,410.53 L161.83,409.76 L163.83,409.09 L165.86,408.51 L167.91,408.02 L169.99,407.63 L172.08,407.33 L174.18,407.12 L176.30,407.00 L178.43,406.95 L180.56,406.96 L182.70,407.06 L184.86,407.25 L187.00,407.54 L189.15,407.95 L191.27,408.49 L193.35,409.17 L195.39,410.00 L197.36,410.97 L199.25,412.10 L201.05,413.35 L202.77,414.72 L204.38,416.19 L205.90,417.76 L207.33,419.41 L208.65,421.13 L209.88,422.90 L211.02,424.73 L212.08,426.60 L213.03,428.52 L213.88,430.48 L214.62,432.47 L215.24,434.50 L215.76,436.56 L216.17,438.63 L216.48,440.71 L216.69,442.81 L216.79,444.90Z"/></clipPath>
<g filter="url(#edge)"><path d="M216.80,447.00 L216.72,449.09 L216.54,451.18 L216.27,453.25 L215.90,455.31 L215.42,457.35 L214.84,459.37 L214.14,461.35 L213.33,463.29 L212.41,465.17 L211.37,467.00 L210.22,468.76 L208.96,470.43 L207.59,472.03 L206.14,473.54 L204.62,474.97 L203.02,476.31 L201.37,477.58 L199.67,478.77 L197.93,479.89 L196.15,480.95 L194.33,481.94 L192.47,482.88 L190.58,483.73 L188.64,484.51 L186.66,485.20 L184.65,485.79 L182.60,486.28 L180.52,486.65 L178.42,486.89 L176.30,487.00 L174.18,486.98 L172.06,486.83 L169.96,486.55 L167.87,486.16 L165.81,485.66 L163.78,485.05 L161.79,484.34 L159.83,483.53 L157.92,482.63 L156.05,481.64 L154.23,480.57 L152.45,479.42 L150.73,478.19 L149.07,476.87 L147.48,475.46 L145.97,473.97 L144.55,472.40 L143.22,470.74 L141.99,469.01 L140.88,467.20 L139.89,465.32 L139.04,463.39 L138.31,461.40 L137.71,459.38 L137.23,457.34 L136.85,455.28 L136.57,453.22 L136.37,451.14 L136.26,449.07 L136.20,447.00 L136.21,444.92 L136.28,442.85 L136.42,440.76 L136.65,438.68 L136.98,436.60 L137.43,434.53 L137.99,432.48 L138.69,430.46 L139.54,428.50 L140.52,426.60 L141.66,424.78 L142.92,423.04 L144.29,421.40 L145.76,419.84 L147.32,418.38 L148.96,417.01 L150.66,415.72 L152.41,414.53 L154.21,413.41 L156.05,412.36 L157.93,411.40 L159.86,410.53 L161.83,409.76 L163.83,409.09 L165.86,408.51 L167.91,408.02 L169.99,407.63 L172.08,407.33 L174.18,407.12 L176.30,407.00 L178.43,406.95 L180.56,406.96 L182.70,407.06 L184.86,407.25 L187.00,407.54 L189.15,407.95 L191.27,408.49 L193.35,409.17 L195.39,410.00 L197.36,410.97 L199.25,412.10 L201.05,413.35 L202.77,414.72 L204.38,416.19 L205.90,417.76 L207.33,419.41 L208.65,421.13 L209.88,422.90 L211.02,424.73 L212.08,426.60 L213.03,428.52 L213.88,430.48 L214.62,432.47 L215.24,434.50 L215.76,436.56 L216.17,438.63 L216.48,440.71 L216.69,442.81 L216.79,444.90Z" fill="url(#g90)"/>
<g clip-path="url(#c90)">
<ellipse cx="168" cy="484" rx="30" ry="10" fill="#c86858" opacity="0.8" filter="url(#b4)" transform="rotate(12 168 484)"/>
<ellipse cx="142" cy="468" rx="7" ry="12" fill="#c08060" opacity="0.5" filter="url(#b2_5)"/>
<ellipse cx="196" cy="482" rx="14" ry="6" fill="#c87860" opacity="0.5" filter="url(#b4)" transform="rotate(-20 196 482)"/>
<ellipse cx="208" cy="426" rx="8" ry="16" fill="#d08868" opacity="0.6" filter="url(#b4)" transform="rotate(-25 208 426)"/>
<ellipse cx="195" cy="410" rx="14" ry="5" fill="#c8a070" opacity="0.35" filter="url(#b4)" transform="rotate(15 195 410)"/>
<ellipse cx="208" cy="466" rx="10" ry="10" fill="#a8c050" opacity="0.35" filter="url(#b4)"/>
<ellipse cx="160" cy="430" rx="14" ry="10" fill="#d0dc90" opacity="0.2" filter="url(#b4)"/>
<path d="M193.9,456.1 A22,22 0 0 1 157.9,453.0" stroke="#e8ecc8" stroke-width="1.8" fill="none" opacity="0.4" stroke-linecap="round" filter="url(#b1_5)"/>
<path d="M162.9,436.9 A15,15 0 0 1 184.5,429.0" stroke="#e8ecc8" stroke-width="1.5" fill="none" opacity="0.35" stroke-linecap="round" filter="url(#b1_5)"/>
<g fill="#eef0d8" opacity="0.5" filter="url(#b0_5)"><circle cx="155.3" cy="426.9" r="0.6"/><circle cx="185.0" cy="416.0" r="0.6"/><circle cx="174.0" cy="415.1" r="0.6"/><circle cx="199.0" cy="451.2" r="0.6"/><circle cx="201.4" cy="437.5" r="0.6"/><circle cx="186.9" cy="439.2" r="0.6"/><circle cx="158.5" cy="450.4" r="0.6"/><circle cx="151.3" cy="440.0" r="0.6"/><circle cx="192.9" cy="448.4" r="0.6"/><circle cx="170.1" cy="478.3" r="0.6"/><circle cx="177.5" cy="432.0" r="0.6"/><circle cx="180.2" cy="433.3" r="0.6"/><circle cx="165.7" cy="437.6" r="0.6"/><circle cx="207.1" cy="447.3" r="0.6"/><circle cx="180.3" cy="463.4" r="0.6"/><circle cx="206.9" cy="443.6" r="0.6"/><circle cx="168.0" cy="478.6" r="0.6"/><circle cx="149.1" cy="440.2" r="0.6"/><circle cx="185.0" cy="478.0" r="0.6"/><circle cx="164.1" cy="416.6" r="0.6"/><circle cx="191.2" cy="435.1" r="0.6"/><circle cx="166.2" cy="458.7" r="0.6"/><circle cx="182.9" cy="456.0" r="0.6"/><circle cx="167.7" cy="471.9" r="0.6"/></g>
<ellipse cx="177" cy="441.5" rx="4" ry="3.8" fill="#c8c4c8" opacity="0.9" filter="url(#b0_8)"/>
<ellipse cx="176" cy="441" rx="1.6" ry="1.3" fill="#a07868" opacity="0.9" filter="url(#b0_8)"/>
<rect x="133" y="404" width="87" height="86" filter="url(#noise)" opacity="0.2"/>
<radialGradient id="rim90" gradientUnits="userSpaceOnUse" cx="177" cy="445" r="44"><stop offset="0.7" stop-color="#000" stop-opacity="0"/><stop offset="0.9" stop-color="#000" stop-opacity="0.18"/><stop offset="1" stop-color="#000" stop-opacity="0.45"/></radialGradient>
<path d="M216.80,447.00 L216.72,449.09 L216.54,451.18 L216.27,453.25 L215.90,455.31 L215.42,457.35 L214.84,459.37 L214.14,461.35 L213.33,463.29 L212.41,465.17 L211.37,467.00 L210.22,468.76 L208.96,470.43 L207.59,472.03 L206.14,473.54 L204.62,474.97 L203.02,476.31 L201.37,477.58 L199.67,478.77 L197.93,479.89 L196.15,480.95 L194.33,481.94 L192.47,482.88 L190.58,483.73 L188.64,484.51 L186.66,485.20 L184.65,485.79 L182.60,486.28 L180.52,486.65 L178.42,486.89 L176.30,487.00 L174.18,486.98 L172.06,486.83 L169.96,486.55 L167.87,486.16 L165.81,485.66 L163.78,485.05 L161.79,484.34 L159.83,483.53 L157.92,482.63 L156.05,481.64 L154.23,480.57 L152.45,479.42 L150.73,478.19 L149.07,476.87 L147.48,475.46 L145.97,473.97 L144.55,472.40 L143.22,470.74 L141.99,469.01 L140.88,467.20 L139.89,465.32 L139.04,463.39 L138.31,461.40 L137.71,459.38 L137.23,457.34 L136.85,455.28 L136.57,453.22 L136.37,451.14 L136.26,449.07 L136.20,447.00 L136.21,444.92 L136.28,442.85 L136.42,440.76 L136.65,438.68 L136.98,436.60 L137.43,434.53 L137.99,432.48 L138.69,430.46 L139.54,428.50 L140.52,426.60 L141.66,424.78 L142.92,423.04 L144.29,421.40 L145.76,419.84 L147.32,418.38 L148.96,417.01 L150.66,415.72 L152.41,414.53 L154.21,413.41 L156.05,412.36 L157.93,411.40 L159.86,410.53 L161.83,409.76 L163.83,409.09 L165.86,408.51 L167.91,408.02 L169.99,407.63 L172.08,407.33 L174.18,407.12 L176.30,407.00 L178.43,406.95 L180.56,406.96 L182.70,407.06 L184.86,407.25 L187.00,407.54 L189.15,407.95 L191.27,408.49 L193.35,409.17 L195.39,410.00 L197.36,410.97 L199.25,412.10 L201.05,413.35 L202.77,414.72 L204.38,416.19 L205.90,417.76 L207.33,419.41 L208.65,421.13 L209.88,422.90 L211.02,424.73 L212.08,426.60 L213.03,428.52 L213.88,430.48 L214.62,432.47 L215.24,434.50 L215.76,436.56 L216.17,438.63 L216.48,440.71 L216.69,442.81 L216.79,444.90Z" fill="url(#rim90)"/>
</g></g>
<clipPath id="c120"><path d="M322.10,444.80 L322.04,447.02 L321.87,449.24 L321.58,451.45 L321.17,453.64 L320.64,455.81 L319.98,457.95 L319.21,460.05 L318.30,462.11 L317.28,464.11 L316.14,466.05 L314.87,467.92 L313.48,469.70 L311.98,471.39 L310.39,473.00 L308.71,474.51 L306.96,475.94 L305.15,477.29 L303.28,478.56 L301.36,479.75 L299.41,480.87 L297.41,481.93 L295.37,482.91 L293.28,483.82 L291.15,484.64 L288.98,485.36 L286.77,485.99 L284.52,486.50 L282.23,486.90 L279.92,487.17 L277.60,487.30 L275.27,487.30 L272.94,487.18 L270.61,486.93 L268.30,486.57 L266.02,486.08 L263.76,485.48 L261.54,484.77 L259.35,483.94 L257.21,483.01 L255.13,481.97 L253.09,480.84 L251.12,479.61 L249.20,478.29 L247.36,476.87 L245.60,475.36 L243.93,473.75 L242.35,472.06 L240.88,470.28 L239.52,468.42 L238.29,466.48 L237.19,464.46 L236.23,462.39 L235.40,460.27 L234.70,458.11 L234.13,455.92 L233.69,453.71 L233.37,451.49 L233.17,449.26 L233.08,447.03 L233.10,444.80 L233.23,442.58 L233.47,440.37 L233.84,438.18 L234.32,436.01 L234.91,433.88 L235.61,431.77 L236.42,429.70 L237.33,427.68 L238.34,425.70 L239.45,423.76 L240.64,421.88 L241.93,420.05 L243.30,418.27 L244.76,416.56 L246.31,414.92 L247.95,413.35 L249.68,411.87 L251.49,410.47 L253.38,409.18 L255.35,407.99 L257.39,406.92 L259.49,405.96 L261.65,405.12 L263.85,404.39 L266.09,403.77 L268.36,403.27 L270.65,402.87 L272.95,402.58 L275.27,402.39 L277.60,402.30 L279.93,402.30 L282.27,402.39 L284.60,402.58 L286.93,402.88 L289.25,403.29 L291.54,403.82 L293.81,404.48 L296.03,405.27 L298.20,406.19 L300.30,407.26 L302.31,408.46 L304.23,409.79 L306.06,411.23 L307.79,412.78 L309.42,414.41 L310.95,416.12 L312.38,417.90 L313.72,419.74 L314.97,421.62 L316.14,423.55 L317.22,425.52 L318.20,427.54 L319.08,429.59 L319.86,431.69 L320.53,433.81 L321.09,435.97 L321.52,438.16 L321.84,440.36 L322.04,442.58Z"/></clipPath>
<g filter="url(#edge)"><path d="M322.10,444.80 L322.04,447.02 L321.87,449.24 L321.58,451.45 L321.17,453.64 L320.64,455.81 L319.98,457.95 L319.21,460.05 L318.30,462.11 L317.28,464.11 L316.14,466.05 L314.87,467.92 L313.48,469.70 L311.98,471.39 L310.39,473.00 L308.71,474.51 L306.96,475.94 L305.15,477.29 L303.28,478.56 L301.36,479.75 L299.41,480.87 L297.41,481.93 L295.37,482.91 L293.28,483.82 L291.15,484.64 L288.98,485.36 L286.77,485.99 L284.52,486.50 L282.23,486.90 L279.92,487.17 L277.60,487.30 L275.27,487.30 L272.94,487.18 L270.61,486.93 L268.30,486.57 L266.02,486.08 L263.76,485.48 L261.54,484.77 L259.35,483.94 L257.21,483.01 L255.13,481.97 L253.09,480.84 L251.12,479.61 L249.20,478.29 L247.36,476.87 L245.60,475.36 L243.93,473.75 L242.35,472.06 L240.88,470.28 L239.52,468.42 L238.29,466.48 L237.19,464.46 L236.23,462.39 L235.40,460.27 L234.70,458.11 L234.13,455.92 L233.69,453.71 L233.37,451.49 L233.17,449.26 L233.08,447.03 L233.10,444.80 L233.23,442.58 L233.47,440.37 L233.84,438.18 L234.32,436.01 L234.91,433.88 L235.61,431.77 L236.42,429.70 L237.33,427.68 L238.34,425.70 L239.45,423.76 L240.64,421.88 L241.93,420.05 L243.30,418.27 L244.76,416.56 L246.31,414.92 L247.95,413.35 L249.68,411.87 L251.49,410.47 L253.38,409.18 L255.35,407.99 L257.39,406.92 L259.49,405.96 L261.65,405.12 L263.85,404.39 L266.09,403.77 L268.36,403.27 L270.65,402.87 L272.95,402.58 L275.27,402.39 L277.60,402.30 L279.93,402.30 L282.27,402.39 L284.60,402.58 L286.93,402.88 L289.25,403.29 L291.54,403.82 L293.81,404.48 L296.03,405.27 L298.20,406.19 L300.30,407.26 L302.31,408.46 L304.23,409.79 L306.06,411.23 L307.79,412.78 L309.42,414.41 L310.95,416.12 L312.38,417.90 L313.72,419.74 L314.97,421.62 L316.14,423.55 L317.22,425.52 L318.20,427.54 L319.08,429.59 L319.86,431.69 L320.53,433.81 L321.09,435.97 L321.52,438.16 L321.84,440.36 L322.04,442.58Z" fill="url(#g120)"/>
<g clip-path="url(#c120)">
<path d="M263.2,443.5 L251.3,447.2 M263.7,441.8 L254.7,443.8 M288.1,454.3 L291.9,463.1 M283.8,427.9 L285.5,421.7 M300.4,450.4 L309.0,456.0 M306.2,444.8 L318.6,448.1 M269.9,421.8 L267.0,417.7 M299.0,439.7 L303.1,440.1 M285.8,450.1 L287.2,453.7 M264.9,441.7 L253.5,444.3 M261.1,435.6 L252.8,434.6 M272.2,423.6 L268.9,418.3 M307.3,437.6 L319.0,437.4 M277.2,424.2 L275.7,418.6 M278.6,447.7 L275.9,458.3 M261.8,451.9 L255.9,456.1 M303.9,431.8 L307.3,430.9 M287.2,462.0 L289.2,469.8 M296.7,436.1 L300.9,435.5 M265.5,421.6 L261.3,417.2 M293.5,445.6 L304.5,452.3 M281.5,427.1 L281.8,421.2 M288.9,443.8 L298.0,450.5 M289.2,454.8 L292.6,461.8 M288.9,458.2 L290.6,462.7 M274.3,429.5 L269.6,423.5 M284.1,451.2 L287.1,463.7 M285.7,424.6 L289.6,413.2 M284.8,453.3 L287.7,464.7 M274.4,429.8 L266.1,419.6 M284.1,451.0 L286.6,461.7 M274.3,450.3 L272.3,454.0 M297.1,448.2 L302.0,451.4 M268.7,428.9 L262.3,424.2 M297.7,433.6 L306.5,431.3 M289.0,429.1 L292.4,425.3 M300.5,425.4 L305.4,422.1 M289.1,458.3 L293.7,470.0 M289.4,462.1 L293.4,473.5 M268.1,428.2 L264.5,425.4 M306.0,444.2 L311.6,445.6 M277.2,425.2 L274.0,414.2 M269.5,430.0 L265.2,427.1 M279.1,428.2 L278.1,422.5 M258.8,429.3 L250.0,425.9 M276.3,462.5 L275.3,467.9 M294.5,439.4 L302.3,440.2 M292.1,442.4 L298.6,445.0 M271.0,433.1 L264.7,430.1 M301.2,421.5 L308.8,415.3 M274.1,420.2 L272.3,415.7 M289.9,440.0 L301.9,442.7 M273.2,413.5 L272.1,409.9 M269.7,424.9 L262.7,417.0 M269.9,462.0 L268.1,465.8 M260.1,431.8 L248.4,428.3 M279.3,416.9 L278.4,405.7 M293.9,430.4 L302.6,425.2 M300.6,423.9 L306.7,419.5 M287.0,414.8 L289.3,406.0 M270.0,427.0 L263.5,420.5 M273.1,431.5 L265.6,425.4 M305.3,437.0 L315.8,436.5 M264.4,452.0 L257.4,457.9 M259.1,446.6 L255.0,448.2 M281.0,428.7 L281.0,419.3 M268.2,439.5 L258.0,440.8 M261.4,438.3 L249.0,438.6 M280.7,447.0 L280.4,453.4 M275.6,426.9 L273.4,422.2 M297.9,426.6 L304.4,422.2 M292.3,428.8 L300.1,422.6 M286.2,453.5 L289.8,464.3 M301.8,425.5 L308.1,421.8 M268.5,430.8 L264.4,428.4 M257.5,438.5 L245.7,438.8 M274.8,413.2 L273.3,407.2 M289.1,452.6 L292.1,458.0 M284.6,453.7 L286.7,463.0 M266.7,438.6 L255.0,439.0 M297.7,436.1 L301.9,435.6 M304.7,442.7 L308.5,443.5 M276.2,419.8 L274.5,413.5 M283.4,429.2 L284.6,424.5 M272.1,440.6 L261.0,443.8 M281.9,449.2 L282.2,453.2 M269.5,425.9 L262.9,418.9 M268.1,419.0 L260.9,408.4 M276.1,426.7 L272.8,419.3 M284.9,446.1 L288.4,453.4 M278.3,426.3 L277.0,420.3 M269.1,455.4 L264.2,462.4 M264.4,423.4 L258.9,418.6 M287.4,414.1 L288.6,409.9 M300.6,429.2 L305.0,427.2 M262.0,443.7 L250.2,447.2 M267.5,451.1 L258.9,459.6 M288.4,413.7 L290.7,406.0 M273.8,427.9 L267.7,419.4 M289.4,419.7 L293.7,410.2 M286.6,462.0 L289.6,474.7 M299.1,435.4 L310.1,433.8 M270.4,460.4 L265.3,471.1 M275.0,446.4 L270.5,452.7 M259.8,431.1 L252.0,428.5 M303.7,442.1 L307.7,442.8 M284.6,426.7 L286.7,420.3 M283.7,427.0 L284.8,422.2 M259.6,435.8 L248.0,434.6 M271.5,414.4 L268.5,406.7" stroke="#f0b090" stroke-width="0.6" opacity="0.18" fill="none" filter="url(#b0_5)"/>
<ellipse cx="262" cy="425" rx="20" ry="14" fill="#e0a080" opacity="0.3" filter="url(#b4)"/>
<path d="M281,436 L284,401 L312,401 L318,426 Z" fill="#c0cc78" opacity="0.85" filter="url(#b4)"/>
<ellipse cx="299" cy="415" rx="9" ry="9" fill="#c8d480" opacity="0.7" filter="url(#b2_5)" transform="rotate(-20 299 415)"/>
<ellipse cx="283" cy="440" rx="11" ry="8" fill="#b0c470" opacity="0.75" filter="url(#b2_5)"/>
<ellipse cx="258" cy="432" rx="5" ry="16" fill="#e0a898" opacity="0.3" filter="url(#b2_5)" transform="rotate(10 258 432)"/>
<ellipse cx="281" cy="437" rx="4.5" ry="4" fill="#909890" opacity="0.6" filter="url(#b0_8)"/>
<rect x="230" y="400" width="95" height="90" filter="url(#noise)" opacity="0.35"/>
<radialGradient id="rim120" gradientUnits="userSpaceOnUse" cx="279" cy="442" r="47"><stop offset="0.7" stop-color="#000" stop-opacity="0"/><stop offset="0.9" stop-color="#000" stop-opacity="0.16"/><stop offset="1" stop-color="#000" stop-opacity="0.4"/></radialGradient>
<path d="M322.10,444.80 L322.04,447.02 L321.87,449.24 L321.58,451.45 L321.17,453.64 L320.64,455.81 L319.98,457.95 L319.21,460.05 L318.30,462.11 L317.28,464.11 L316.14,466.05 L314.87,467.92 L313.48,469.70 L311.98,471.39 L310.39,473.00 L308.71,474.51 L306.96,475.94 L305.15,477.29 L303.28,478.56 L301.36,479.75 L299.41,480.87 L297.41,481.93 L295.37,482.91 L293.28,483.82 L291.15,484.64 L288.98,485.36 L286.77,485.99 L284.52,486.50 L282.23,486.90 L279.92,487.17 L277.60,487.30 L275.27,487.30 L272.94,487.18 L270.61,486.93 L268.30,486.57 L266.02,486.08 L263.76,485.48 L261.54,484.77 L259.35,483.94 L257.21,483.01 L255.13,481.97 L253.09,480.84 L251.12,479.61 L249.20,478.29 L247.36,476.87 L245.60,475.36 L243.93,473.75 L242.35,472.06 L240.88,470.28 L239.52,468.42 L238.29,466.48 L237.19,464.46 L236.23,462.39 L235.40,460.27 L234.70,458.11 L234.13,455.92 L233.69,453.71 L233.37,451.49 L233.17,449.26 L233.08,447.03 L233.10,444.80 L233.23,442.58 L233.47,440.37 L233.84,438.18 L234.32,436.01 L234.91,433.88 L235.61,431.77 L236.42,429.70 L237.33,427.68 L238.34,425.70 L239.45,423.76 L240.64,421.88 L241.93,420.05 L243.30,418.27 L244.76,416.56 L246.31,414.92 L247.95,413.35 L249.68,411.87 L251.49,410.47 L253.38,409.18 L255.35,407.99 L257.39,406.92 L259.49,405.96 L261.65,405.12 L263.85,404.39 L266.09,403.77 L268.36,403.27 L270.65,402.87 L272.95,402.58 L275.27,402.39 L277.60,402.30 L279.93,402.30 L282.27,402.39 L284.60,402.58 L286.93,402.88 L289.25,403.29 L291.54,403.82 L293.81,404.48 L296.03,405.27 L298.20,406.19 L300.30,407.26 L302.31,408.46 L304.23,409.79 L306.06,411.23 L307.79,412.78 L309.42,414.41 L310.95,416.12 L312.38,417.90 L313.72,419.74 L314.97,421.62 L316.14,423.55 L317.22,425.52 L318.20,427.54 L319.08,429.59 L319.86,431.69 L320.53,433.81 L321.09,435.97 L321.52,438.16 L321.84,440.36 L322.04,442.58Z" fill="url(#rim120)"/>
<path d="M283.5,424.5 L278.5,438" stroke="#806848" stroke-width="2.8" stroke-linecap="round" filter="url(#b0_5)"/>
<path d="M283.2,426 L279.5,435.5" stroke="#e0d0b0" stroke-width="1.1" stroke-linecap="round" opacity="0.9" filter="url(#b0_5)"/>
</g></g>
<clipPath id="c150"><path d="M432.05,447.70 L431.96,450.17 L431.79,452.63 L431.54,455.08 L431.17,457.52 L430.70,459.95 L430.11,462.35 L429.39,464.72 L428.54,467.05 L427.54,469.31 L426.40,471.50 L425.12,473.60 L423.72,475.61 L422.19,477.51 L420.57,479.32 L418.85,481.02 L417.06,482.62 L415.20,484.13 L413.28,485.54 L411.31,486.86 L409.30,488.10 L407.24,489.25 L405.14,490.32 L402.99,491.28 L400.80,492.15 L398.58,492.90 L396.31,493.54 L394.02,494.06 L391.70,494.45 L389.35,494.71 L387.00,494.82 L384.64,494.81 L382.28,494.67 L379.93,494.40 L377.59,494.00 L375.28,493.48 L372.99,492.82 L370.73,492.04 L368.52,491.13 L366.36,490.09 L364.25,488.92 L362.21,487.64 L360.24,486.23 L358.34,484.72 L356.53,483.10 L354.81,481.38 L353.17,479.57 L351.63,477.67 L350.18,475.68 L348.84,473.63 L347.60,471.50 L346.46,469.31 L345.42,467.07 L344.50,464.77 L343.69,462.42 L343.00,460.04 L342.43,457.61 L341.99,455.16 L341.69,452.68 L341.53,450.19 L341.50,447.70 L341.62,445.21 L341.88,442.74 L342.28,440.29 L342.81,437.87 L343.46,435.50 L344.24,433.16 L345.12,430.88 L346.11,428.66 L347.20,426.49 L348.38,424.38 L349.66,422.33 L351.03,420.36 L352.50,418.47 L354.06,416.67 L355.69,414.95 L357.40,413.31 L359.19,411.77 L361.04,410.32 L362.96,408.97 L364.93,407.71 L366.96,406.56 L369.04,405.51 L371.17,404.57 L373.35,403.74 L375.55,403.02 L377.80,402.40 L380.07,401.90 L382.36,401.51 L384.67,401.23 L387.00,401.05 L389.34,400.97 L391.69,400.99 L394.05,401.11 L396.42,401.34 L398.78,401.69 L401.14,402.18 L403.47,402.82 L405.77,403.60 L408.02,404.55 L410.20,405.65 L412.32,406.91 L414.36,408.30 L416.32,409.82 L418.19,411.47 L419.96,413.22 L421.63,415.08 L423.19,417.04 L424.64,419.09 L425.98,421.22 L427.19,423.42 L428.27,425.70 L429.20,428.04 L429.99,430.44 L430.63,432.87 L431.14,435.33 L431.53,437.80 L431.81,440.28 L431.98,442.75 L432.05,445.23Z"/></clipPath>
<g filter="url(#edge)"><path d="M432.05,447.70 L431.96,450.17 L431.79,452.63 L431.54,455.08 L431.17,457.52 L430.70,459.95 L430.11,462.35 L429.39,464.72 L428.54,467.05 L427.54,469.31 L426.40,471.50 L425.12,473.60 L423.72,475.61 L422.19,477.51 L420.57,479.32 L418.85,481.02 L417.06,482.62 L415.20,484.13 L413.28,485.54 L411.31,486.86 L409.30,488.10 L407.24,489.25 L405.14,490.32 L402.99,491.28 L400.80,492.15 L398.58,492.90 L396.31,493.54 L394.02,494.06 L391.70,494.45 L389.35,494.71 L387.00,494.82 L384.64,494.81 L382.28,494.67 L379.93,494.40 L377.59,494.00 L375.28,493.48 L372.99,492.82 L370.73,492.04 L368.52,491.13 L366.36,490.09 L364.25,488.92 L362.21,487.64 L360.24,486.23 L358.34,484.72 L356.53,483.10 L354.81,481.38 L353.17,479.57 L351.63,477.67 L350.18,475.68 L348.84,473.63 L347.60,471.50 L346.46,469.31 L345.42,467.07 L344.50,464.77 L343.69,462.42 L343.00,460.04 L342.43,457.61 L341.99,455.16 L341.69,452.68 L341.53,450.19 L341.50,447.70 L341.62,445.21 L341.88,442.74 L342.28,440.29 L342.81,437.87 L343.46,435.50 L344.24,433.16 L345.12,430.88 L346.11,428.66 L347.20,426.49 L348.38,424.38 L349.66,422.33 L351.03,420.36 L352.50,418.47 L354.06,416.67 L355.69,414.95 L357.40,413.31 L359.19,411.77 L361.04,410.32 L362.96,408.97 L364.93,407.71 L366.96,406.56 L369.04,405.51 L371.17,404.57 L373.35,403.74 L375.55,403.02 L377.80,402.40 L380.07,401.90 L382.36,401.51 L384.67,401.23 L387.00,401.05 L389.34,400.97 L391.69,400.99 L394.05,401.11 L396.42,401.34 L398.78,401.69 L401.14,402.18 L403.47,402.82 L405.77,403.60 L408.02,404.55 L410.20,405.65 L412.32,406.91 L414.36,408.30 L416.32,409.82 L418.19,411.47 L419.96,413.22 L421.63,415.08 L423.19,417.04 L424.64,419.09 L425.98,421.22 L427.19,423.42 L428.27,425.70 L429.20,428.04 L429.99,430.44 L430.63,432.87 L431.14,435.33 L431.53,437.80 L431.81,440.28 L431.98,442.75 L432.05,445.23Z" fill="url(#g150)"/>
<g clip-path="url(#c150)">
<path d="M381.8,465.8 L381.2,476.4 M390.4,433.8 L393.9,428.9 M391.0,454.7 L397.7,463.5 M396.0,457.9 L400.0,462.1 M378.3,460.5 L374.9,472.2 M375.6,438.0 L370.6,434.0 M398.2,464.1 L405.4,473.6 M391.4,421.1 L395.3,410.6 M405.6,436.5 L411.6,434.6 M393.7,429.3 L400.3,420.1 M367.3,437.3 L360.5,434.4 M369.5,450.4 L365.1,452.5 M393.1,422.4 L398.9,410.0 M376.0,425.9 L371.9,415.4 M397.3,460.2 L402.7,466.4 M388.8,455.6 L392.7,463.6 M382.6,461.7 L382.4,471.5 M373.8,451.1 L366.9,456.3 M384.2,457.5 L384.8,463.1 M376.0,451.8 L369.1,459.5 M398.7,439.3 L409.2,436.2 M392.1,439.9 L396.8,437.8 M391.5,420.9 L395.0,411.4 M392.0,458.2 L398.7,468.7 M401.1,428.3 L405.4,424.5 M392.8,431.2 L399.4,422.5 M400.6,464.5 L407.0,472.0 M380.8,431.1 L379.1,421.3 M365.5,434.2 L359.1,430.7 M380.8,428.7 L379.9,422.1 M394.2,462.7 L396.6,466.9 M384.6,454.3 L386.2,464.4 M365.0,437.4 L361.2,436.0 M368.6,449.7 L364.3,451.5 M410.6,444.5 L415.5,444.6 M378.5,457.4 L375.4,466.6 M398.8,452.3 L405.3,455.8 M387.7,436.0 L391.3,429.9 M356.0,444.6 L347.1,444.8 M361.8,447.5 L355.2,448.5 M401.1,447.7 L413.7,450.2 M382.0,430.1 L381.2,419.5 M391.1,432.7 L396.8,424.8 M374.6,454.8 L370.5,460.0 M387.5,459.0 L388.6,462.9 M374.4,450.5 L365.3,457.3 M375.5,438.6 L366.2,431.8 M389.6,460.8 L393.0,469.4 M375.8,456.6 L371.8,463.6 M399.4,463.0 L402.5,466.7 M388.9,432.2 L391.9,426.1 M375.5,450.3 L371.7,453.5 M371.9,457.3 L363.8,466.9 M393.0,443.4 L402.1,442.8 M399.5,461.4 L404.3,466.5 M398.0,432.0 L401.9,428.9 M396.8,444.4 L409.2,444.8 M393.6,458.6 L398.0,464.6 M369.5,463.8 L366.3,468.6 M378.8,423.0 L376.2,410.1 M357.1,440.7 L349.0,439.7 M364.5,434.8 L353.6,429.4 M392.1,437.2 L396.1,434.2 M359.4,438.9 L350.5,437.0 M374.8,469.6 L372.7,476.0 M391.7,449.3 L395.1,451.3 M381.4,432.9 L379.8,422.1 M401.4,423.5 L409.3,414.6 M364.6,453.4 L353.9,459.0 M379.9,429.8 L377.5,418.7 M394.5,453.4 L405.1,462.2 M369.1,446.5 L357.7,448.6 M374.2,446.9 L370.4,448.1 M382.1,459.3 L381.4,472.4 M383.4,468.8 L383.6,481.2 M359.3,457.8 L349.4,463.5 M369.1,445.4 L360.8,446.2 M398.6,433.0 L403.2,429.7 M370.3,456.7 L366.3,460.6 M374.2,439.7 L363.4,434.3 M387.8,454.0 L392.0,462.7 M374.0,467.9 L371.0,476.0 M358.7,440.7 L352.9,439.9 M382.4,422.9 L382.1,414.9 M392.3,441.6 L404.3,438.4 M398.3,463.3 L401.6,467.4 M400.4,450.1 L412.7,454.4 M382.2,462.1 L381.7,472.0 M383.8,462.9 L383.9,466.7 M361.0,451.2 L354.2,453.5 M384.9,454.0 L386.9,464.5 M359.7,455.5 L349.6,460.4 M404.0,459.3 L414.6,467.1 M393.0,421.6 L397.3,412.0 M379.1,422.9 L377.3,413.4 M382.5,455.6 L382.0,466.7 M374.6,438.2 L366.2,432.4 M368.7,432.1 L359.8,424.8 M394.6,432.6 L403.1,424.3 M363.3,444.1 L355.4,444.1 M398.9,436.9 L411.0,431.5 M371.6,462.3 L364.8,473.3 M376.5,429.3 L374.7,425.2 M366.3,446.3 L354.5,447.9 M388.9,417.3 L390.6,409.3 M366.4,454.4 L356.9,460.4 M394.5,450.3 L399.1,452.8 M376.4,457.1 L370.3,469.2 M389.9,469.5 L391.7,475.9 M390.8,470.0 L392.1,474.4 M391.8,451.5 L395.1,454.4 M373.1,452.6 L369.1,456.0 M404.9,446.2 L409.1,446.6 M385.3,463.5 L386.8,476.0 M371.0,425.3 L365.2,416.2 M390.3,420.2 L391.8,415.2 M402.4,450.9 L410.9,453.8 M359.6,440.9 L354.2,440.2 M378.4,427.6 L376.2,420.0 M383.5,458.4 L383.8,467.9" stroke="#f0b090" stroke-width="0.6" opacity="0.18" fill="none" filter="url(#b0_5)"/>
<path d="M348,427 L366,426 L367,438 L349,439 Z" fill="#dcd848" opacity="0.95" filter="url(#b2_5)"/>
<path d="M339,442 L349,443 L349,456 L339,456 Z" fill="#d4d448" opacity="0.9" filter="url(#b2_5)"/>
<ellipse cx="406" cy="471" rx="6.5" ry="6" fill="#dcd450" opacity="0.9" filter="url(#b2_5)"/>
<ellipse cx="392" cy="430" rx="8" ry="5" fill="#d8d070" opacity="0.5" filter="url(#b2_5)"/>
<ellipse cx="383" cy="444" rx="16" ry="14" fill="#c8c070" opacity="0.5" filter="url(#b4)"/>
<ellipse cx="382" cy="445" rx="7" ry="7" fill="#80a090" opacity="0.7" filter="url(#b2_5)"/>
<path d="M395.2,473.4 A30,30 0 0 1 359.0,464.1" stroke="#f0c8d0" stroke-width="2.4" fill="none" opacity="0.45" stroke-linecap="round" filter="url(#b1_5)"/>
<path d="M372.5,421.1 A27,27 0 0 1 403.7,428.6" stroke="#f0c8d0" stroke-width="2.2" fill="none" opacity="0.4" stroke-linecap="round" filter="url(#b1_5)"/>
<circle cx="381.5" cy="443.5" r="1.8" fill="#a08878" filter="url(#b0_5)"/>
<rect x="338" y="398" width="98" height="100" filter="url(#noise)" opacity="0.35"/>
<radialGradient id="rim150" gradientUnits="userSpaceOnUse" cx="385" cy="446" r="50"><stop offset="0.7" stop-color="#000" stop-opacity="0"/><stop offset="0.9" stop-color="#000" stop-opacity="0.16"/><stop offset="1" stop-color="#000" stop-opacity="0.4"/></radialGradient>
<path d="M432.05,447.70 L431.96,450.17 L431.79,452.63 L431.54,455.08 L431.17,457.52 L430.70,459.95 L430.11,462.35 L429.39,464.72 L428.54,467.05 L427.54,469.31 L426.40,471.50 L425.12,473.60 L423.72,475.61 L422.19,477.51 L420.57,479.32 L418.85,481.02 L417.06,482.62 L415.20,484.13 L413.28,485.54 L411.31,486.86 L409.30,488.10 L407.24,489.25 L405.14,490.32 L402.99,491.28 L400.80,492.15 L398.58,492.90 L396.31,493.54 L394.02,494.06 L391.70,494.45 L389.35,494.71 L387.00,494.82 L384.64,494.81 L382.28,494.67 L379.93,494.40 L377.59,494.00 L375.28,493.48 L372.99,492.82 L370.73,492.04 L368.52,491.13 L366.36,490.09 L364.25,488.92 L362.21,487.64 L360.24,486.23 L358.34,484.72 L356.53,483.10 L354.81,481.38 L353.17,479.57 L351.63,477.67 L350.18,475.68 L348.84,473.63 L347.60,471.50 L346.46,469.31 L345.42,467.07 L344.50,464.77 L343.69,462.42 L343.00,460.04 L342.43,457.61 L341.99,455.16 L341.69,452.68 L341.53,450.19 L341.50,447.70 L341.62,445.21 L341.88,442.74 L342.28,440.29 L342.81,437.87 L343.46,435.50 L344.24,433.16 L345.12,430.88 L346.11,428.66 L347.20,426.49 L348.38,424.38 L349.66,422.33 L351.03,420.36 L352.50,418.47 L354.06,416.67 L355.69,414.95 L357.40,413.31 L359.19,411.77 L361.04,410.32 L362.96,408.97 L364.93,407.71 L366.96,406.56 L369.04,405.51 L371.17,404.57 L373.35,403.74 L375.55,403.02 L377.80,402.40 L380.07,401.90 L382.36,401.51 L384.67,401.23 L387.00,401.05 L389.34,400.97 L391.69,400.99 L394.05,401.11 L396.42,401.34 L398.78,401.69 L401.14,402.18 L403.47,402.82 L405.77,403.60 L408.02,404.55 L410.20,405.65 L412.32,406.91 L414.36,408.30 L416.32,409.82 L418.19,411.47 L419.96,413.22 L421.63,415.08 L423.19,417.04 L424.64,419.09 L425.98,421.22 L427.19,423.42 L428.27,425.70 L429.20,428.04 L429.99,430.44 L430.63,432.87 L431.14,435.33 L431.53,437.80 L431.81,440.28 L431.98,442.75 L432.05,445.23Z" fill="url(#rim150)"/>
</g></g>
<clipPath id="cR"><path d="M537.97,450.50 L537.97,452.90 L537.86,455.31 L537.65,457.71 L537.32,460.11 L536.87,462.49 L536.29,464.85 L535.59,467.19 L534.75,469.48 L533.78,471.72 L532.67,473.90 L531.43,476.01 L530.07,478.04 L528.59,480.00 L527.01,481.86 L525.32,483.63 L523.54,485.31 L521.68,486.89 L519.74,488.37 L517.73,489.75 L515.65,491.03 L513.51,492.20 L511.31,493.25 L509.06,494.18 L506.76,494.99 L504.43,495.68 L502.06,496.24 L499.67,496.69 L497.26,497.01 L494.83,497.22 L492.40,497.30 L489.96,497.27 L487.53,497.12 L485.10,496.86 L482.69,496.47 L480.30,495.96 L477.93,495.32 L475.60,494.55 L473.31,493.64 L471.08,492.61 L468.92,491.44 L466.83,490.13 L464.83,488.70 L462.92,487.14 L461.10,485.49 L459.38,483.74 L457.75,481.90 L456.21,479.99 L454.77,478.02 L453.41,475.99 L452.13,473.90 L450.93,471.77 L449.82,469.58 L448.80,467.35 L447.88,465.06 L447.06,462.73 L446.37,460.35 L445.81,457.93 L445.38,455.47 L445.10,453.00 L444.97,450.50 L444.99,448.00 L445.16,445.50 L445.46,443.02 L445.90,440.55 L446.47,438.11 L447.19,435.71 L448.03,433.36 L449.00,431.05 L450.10,428.81 L451.32,426.63 L452.67,424.53 L454.14,422.53 L455.73,420.61 L457.41,418.79 L459.19,417.08 L461.05,415.46 L462.99,413.94 L464.98,412.52 L467.04,411.20 L469.15,409.97 L471.31,408.83 L473.51,407.80 L475.76,406.87 L478.05,406.05 L480.38,405.35 L482.74,404.77 L485.13,404.31 L487.54,403.97 L489.97,403.77 L492.40,403.70 L494.83,403.76 L497.26,403.94 L499.68,404.25 L502.08,404.68 L504.45,405.24 L506.79,405.93 L509.09,406.74 L511.34,407.69 L513.53,408.77 L515.65,409.97 L517.69,411.30 L519.65,412.75 L521.51,414.32 L523.28,415.98 L524.95,417.74 L526.52,419.58 L528.00,421.48 L529.38,423.46 L530.67,425.49 L531.86,427.57 L532.97,429.70 L533.96,431.88 L534.85,434.10 L535.63,436.36 L536.30,438.66 L536.87,440.99 L537.31,443.34 L537.65,445.71 L537.87,448.10Z"/></clipPath>
<g filter="url(#edge)"><path d="M537.97,450.50 L537.97,452.90 L537.86,455.31 L537.65,457.71 L537.32,460.11 L536.87,462.49 L536.29,464.85 L535.59,467.19 L534.75,469.48 L533.78,471.72 L532.67,473.90 L531.43,476.01 L530.07,478.04 L528.59,480.00 L527.01,481.86 L525.32,483.63 L523.54,485.31 L521.68,486.89 L519.74,488.37 L517.73,489.75 L515.65,491.03 L513.51,492.20 L511.31,493.25 L509.06,494.18 L506.76,494.99 L504.43,495.68 L502.06,496.24 L499.67,496.69 L497.26,497.01 L494.83,497.22 L492.40,497.30 L489.96,497.27 L487.53,497.12 L485.10,496.86 L482.69,496.47 L480.30,495.96 L477.93,495.32 L475.60,494.55 L473.31,493.64 L471.08,492.61 L468.92,491.44 L466.83,490.13 L464.83,488.70 L462.92,487.14 L461.10,485.49 L459.38,483.74 L457.75,481.90 L456.21,479.99 L454.77,478.02 L453.41,475.99 L452.13,473.90 L450.93,471.77 L449.82,469.58 L448.80,467.35 L447.88,465.06 L447.06,462.73 L446.37,460.35 L445.81,457.93 L445.38,455.47 L445.10,453.00 L444.97,450.50 L444.99,448.00 L445.16,445.50 L445.46,443.02 L445.90,440.55 L446.47,438.11 L447.19,435.71 L448.03,433.36 L449.00,431.05 L450.10,428.81 L451.32,426.63 L452.67,424.53 L454.14,422.53 L455.73,420.61 L457.41,418.79 L459.19,417.08 L461.05,415.46 L462.99,413.94 L464.98,412.52 L467.04,411.20 L469.15,409.97 L471.31,408.83 L473.51,407.80 L475.76,406.87 L478.05,406.05 L480.38,405.35 L482.74,404.77 L485.13,404.31 L487.54,403.97 L489.97,403.77 L492.40,403.70 L494.83,403.76 L497.26,403.94 L499.68,404.25 L502.08,404.68 L504.45,405.24 L506.79,405.93 L509.09,406.74 L511.34,407.69 L513.53,408.77 L515.65,409.97 L517.69,411.30 L519.65,412.75 L521.51,414.32 L523.28,415.98 L524.95,417.74 L526.52,419.58 L528.00,421.48 L529.38,423.46 L530.67,425.49 L531.86,427.57 L532.97,429.70 L533.96,431.88 L534.85,434.10 L535.63,436.36 L536.30,438.66 L536.87,440.99 L537.31,443.34 L537.65,445.71 L537.87,448.10Z" fill="url(#gR)"/>
<g clip-path="url(#cR)">
<ellipse cx="490" cy="418" rx="30" ry="14" fill="#d03850" opacity="0.5" filter="url(#b6)"/>
<ellipse cx="497" cy="440" rx="15" ry="13" fill="#c0a848" opacity="0.5" filter="url(#b4)"/>
<ellipse cx="498" cy="438" rx="8" ry="7" fill="#c8c050" opacity="0.55" filter="url(#b2_5)"/>
<path d="M483.0,438.1 L475.0,436.9 M493.7,453.1 L492.0,459.5 M494.7,436.3 L493.4,434.3 M487.1,448.8 L484.3,451.3 M489.8,439.9 L482.3,439.9 M504.9,437.2 L512.8,434.3 M510.1,445.4 L517.2,448.3 M504.4,450.3 L507.7,454.9 M502.5,438.4 L507.9,436.9 M505.7,432.1 L508.7,429.3 M510.9,447.9 L515.4,450.4 M501.8,439.9 L509.0,439.7 M503.1,425.5 L504.0,423.4 M494.6,442.5 L489.8,447.5 M487.1,452.8 L484.3,456.4 M499.3,425.2 L499.8,421.6 M481.8,434.3 L476.7,432.4 M492.8,445.0 L488.3,450.5 M501.0,450.5 L503.0,455.8 M492.6,438.5 L486.7,436.4 M503.3,436.4 L507.0,434.2 M506.2,434.1 L509.5,432.0 M510.3,440.8 L514.7,441.1 M490.5,441.4 L484.5,442.6 M496.1,432.9 L495.7,430.2 M512.5,438.7 L514.8,438.5 M485.6,435.1 L481.2,433.3 M495.1,423.9 L494.5,418.0 M492.7,443.5 L489.8,445.9 M499.5,443.5 L501.6,446.4 M502.6,431.4 L506.6,425.3 M509.4,433.2 L511.6,432.0 M500.7,438.2 L506.9,435.0 M503.4,429.8 L505.9,425.8 M500.6,441.8 L506.0,444.6 M497.5,450.2 L497.7,454.1 M500.6,445.9 L504.1,451.7 M488.7,440.7 L483.5,441.1 M487.6,436.7 L482.9,435.0 M510.0,437.3 L513.6,436.5 M494.7,445.0 L492.9,449.0 M510.0,442.3 L515.7,443.4 M483.5,447.1 L479.7,449.1 M483.1,432.5 L478.1,429.8 M491.0,434.8 L484.6,429.4 M497.2,433.0 L497.3,428.5 M488.6,434.5 L484.0,431.6 M500.9,450.1 L503.2,456.3 M497.9,430.9 L498.3,426.0 M486.7,439.7 L481.5,439.6" stroke="#d8b040" stroke-width="0.8" opacity="0.35" fill="none" filter="url(#b0_5)"/>
<path d="M486.3,418.3 L482.3,410.1 M480.2,438.8 L466.2,437.8 M494.0,451.8 L492.4,458.1 M496.0,455.5 L495.6,462.0 M509.1,449.7 L514.5,454.1 M485.0,434.4 L481.0,432.5 M502.8,458.7 L505.0,466.2 M494.5,415.6 L493.6,407.6 M515.7,453.5 L525.1,460.3 M479.7,453.2 L474.3,457.4 M518.6,427.2 L528.9,421.1 M510.2,436.1 L519.2,433.4 M494.1,415.7 L493.2,408.0 M510.6,456.2 L513.8,459.9 M494.4,430.8 L492.0,422.7 M485.4,441.5 L476.8,442.6 M480.7,440.0 L467.6,440.0 M514.4,420.5 L518.6,415.8 M513.3,442.7 L518.1,443.5 M493.0,426.2 L491.6,421.3 M493.4,456.6 L491.0,467.7 M482.4,443.7 L471.9,446.3 M509.8,443.7 L520.2,446.8 M497.1,428.7 L497.2,424.2 M475.3,439.2 L471.3,439.1 M483.6,445.6 L479.3,447.4 M504.0,453.0 L508.1,460.6 M513.0,453.7 L522.8,462.0 M492.7,430.2 L488.5,420.6 M490.6,432.9 L485.5,427.1 M481.3,417.7 L473.6,406.8 M478.5,431.3 L466.1,425.6 M501.6,458.4 L502.7,462.7 M500.3,418.6 L501.3,412.7 M503.3,458.2 L507.0,469.1 M507.2,451.7 L513.1,458.5 M495.2,466.0 L494.4,477.2 M517.6,434.1 L528.0,431.1 M492.8,458.4 L491.0,466.4 M486.5,441.4 L474.1,443.1 M507.2,454.9 L514.7,465.9 M471.4,437.9 L464.9,437.4 M480.8,443.4 L473.9,444.9 M484.9,453.0 L476.4,462.1 M508.0,438.0 L518.5,436.0 M480.1,436.9 L476.0,436.2 M487.1,451.7 L482.2,457.5 M483.4,431.0 L477.8,427.2 M492.8,467.5 L491.6,475.2 M509.3,437.9 L519.8,436.1" stroke="#f0a0a0" stroke-width="0.5" opacity="0.15" fill="none" filter="url(#b0_5)"/>
<ellipse cx="520" cy="482" rx="28" ry="18" fill="#300818" opacity="0.4" filter="url(#b6)" transform="rotate(-30 520 482)"/>
<ellipse cx="540" cy="450" rx="10" ry="30" fill="#300818" opacity="0.3" filter="url(#b6)"/>
<ellipse cx="472" cy="452" rx="12" ry="18" fill="#c070a0" opacity="0.3" filter="url(#b6)"/>
<ellipse cx="508" cy="470" rx="9" ry="7" fill="#d8a8d0" opacity="0.5" filter="url(#b4)"/>
<ellipse cx="462" cy="423" rx="8" ry="4" fill="#e87078" opacity="0.5" filter="url(#b2_5)" transform="rotate(-30 462 423)"/>
<g fill="#f0c0c0" opacity="0.5" filter="url(#b0_5)"><circle cx="467.2" cy="455.9" r="0.55"/><circle cx="516.0" cy="478.5" r="0.55"/><circle cx="521.0" cy="451.2" r="0.55"/><circle cx="503.6" cy="441.4" r="0.55"/><circle cx="462.0" cy="439.4" r="0.55"/><circle cx="516.8" cy="456.5" r="0.55"/><circle cx="484.0" cy="423.5" r="0.55"/><circle cx="489.2" cy="432.2" r="0.55"/><circle cx="493.2" cy="465.9" r="0.55"/><circle cx="453.6" cy="448.5" r="0.55"/><circle cx="462.2" cy="431.0" r="0.55"/><circle cx="466.1" cy="473.2" r="0.55"/><circle cx="510.4" cy="463.7" r="0.55"/><circle cx="476.3" cy="419.5" r="0.55"/><circle cx="478.9" cy="457.0" r="0.55"/><circle cx="489.9" cy="470.0" r="0.55"/><circle cx="485.0" cy="485.4" r="0.55"/><circle cx="503.7" cy="485.8" r="0.55"/><circle cx="501.5" cy="441.0" r="0.55"/><circle cx="471.2" cy="469.8" r="0.55"/><circle cx="518.6" cy="454.0" r="0.55"/><circle cx="505.3" cy="441.1" r="0.55"/><circle cx="478.5" cy="440.6" r="0.55"/><circle cx="458.7" cy="432.0" r="0.55"/><circle cx="494.9" cy="459.6" r="0.55"/><circle cx="517.9" cy="465.0" r="0.55"/><circle cx="506.6" cy="451.6" r="0.55"/><circle cx="453.7" cy="450.8" r="0.55"/><circle cx="469.1" cy="462.6" r="0.55"/><circle cx="482.3" cy="438.4" r="0.55"/></g>
<circle cx="495" cy="444" r="3" fill="#504030" opacity="0.8" filter="url(#b0_8)"/>
<ellipse cx="497" cy="437.5" rx="2.2" ry="3" fill="#d0e0a0" filter="url(#b0_5)"/>
<rect x="443" y="400" width="99" height="100" filter="url(#noise)" opacity="0.3"/>
<radialGradient id="rimR" gradientUnits="userSpaceOnUse" cx="494" cy="446" r="51"><stop offset="0.7" stop-color="#000" stop-opacity="0"/><stop offset="0.9" stop-color="#000" stop-opacity="0.20"/><stop offset="1" stop-color="#000" stop-opacity="0.5"/></radialGradient>
<path d="M537.97,450.50 L537.97,452.90 L537.86,455.31 L537.65,457.71 L537.32,460.11 L536.87,462.49 L536.29,464.85 L535.59,467.19 L534.75,469.48 L533.78,471.72 L532.67,473.90 L531.43,476.01 L530.07,478.04 L528.59,480.00 L527.01,481.86 L525.32,483.63 L523.54,485.31 L521.68,486.89 L519.74,488.37 L517.73,489.75 L515.65,491.03 L513.51,492.20 L511.31,493.25 L509.06,494.18 L506.76,494.99 L504.43,495.68 L502.06,496.24 L499.67,496.69 L497.26,497.01 L494.83,497.22 L492.40,497.30 L489.96,497.27 L487.53,497.12 L485.10,496.86 L482.69,496.47 L480.30,495.96 L477.93,495.32 L475.60,494.55 L473.31,493.64 L471.08,492.61 L468.92,491.44 L466.83,490.13 L464.83,488.70 L462.92,487.14 L461.10,485.49 L459.38,483.74 L457.75,481.90 L456.21,479.99 L454.77,478.02 L453.41,475.99 L452.13,473.90 L450.93,471.77 L449.82,469.58 L448.80,467.35 L447.88,465.06 L447.06,462.73 L446.37,460.35 L445.81,457.93 L445.38,455.47 L445.10,453.00 L444.97,450.50 L444.99,448.00 L445.16,445.50 L445.46,443.02 L445.90,440.55 L446.47,438.11 L447.19,435.71 L448.03,433.36 L449.00,431.05 L450.10,428.81 L451.32,426.63 L452.67,424.53 L454.14,422.53 L455.73,420.61 L457.41,418.79 L459.19,417.08 L461.05,415.46 L462.99,413.94 L464.98,412.52 L467.04,411.20 L469.15,409.97 L471.31,408.83 L473.51,407.80 L475.76,406.87 L478.05,406.05 L480.38,405.35 L482.74,404.77 L485.13,404.31 L487.54,403.97 L489.97,403.77 L492.40,403.70 L494.83,403.76 L497.26,403.94 L499.68,404.25 L502.08,404.68 L504.45,405.24 L506.79,405.93 L509.09,406.74 L511.34,407.69 L513.53,408.77 L515.65,409.97 L517.69,411.30 L519.65,412.75 L521.51,414.32 L523.28,415.98 L524.95,417.74 L526.52,419.58 L528.00,421.48 L529.38,423.46 L530.67,425.49 L531.86,427.57 L532.97,429.70 L533.96,431.88 L534.85,434.10 L535.63,436.36 L536.30,438.66 L536.87,440.99 L537.31,443.34 L537.65,445.71 L537.87,448.10Z" fill="url(#rimR)"/>
</g></g>
<text x="23.7" y="508.6" font-size="12" text-anchor="middle" fill="#f4f4f4" stroke="#f4f4f4" stroke-width="0.3" font-family="Liberation Serif, serif">30</text>
<text x="90.5" y="508.6" font-size="12" text-anchor="middle" fill="#f4f4f4" stroke="#f4f4f4" stroke-width="0.3" font-family="Liberation Serif, serif">60</text>
<text x="177.2" y="508.6" font-size="12" text-anchor="middle" fill="#f4f4f4" stroke="#f4f4f4" stroke-width="0.3" font-family="Liberation Serif, serif">90</text>
<text x="277" y="508.6" font-size="12" text-anchor="middle" fill="#f4f4f4" stroke="#f4f4f4" stroke-width="0.3" font-family="Liberation Serif, serif">120</text>
<text x="387.5" y="508.6" font-size="12" text-anchor="middle" fill="#f4f4f4" stroke="#f4f4f4" stroke-width="0.3" font-family="Liberation Serif, serif">150</text>
<text x="496.8" y="508.6" font-size="12" text-anchor="middle" fill="#f4f4f4" stroke="#f4f4f4" stroke-width="0.3" font-family="Liberation Serif, serif">Ripe</text>
<text x="493.6" y="395.9" font-size="7.9" text-anchor="middle" fill="#eee" stroke="#eee" stroke-width="0.2" font-family="Liberation Serif, serif">20 mm</text>
<line x1="482.7" y1="399.1" x2="504.4" y2="399.1" stroke="#e8e8e8" stroke-width="1.4"/>
</svg>
</body></html>
